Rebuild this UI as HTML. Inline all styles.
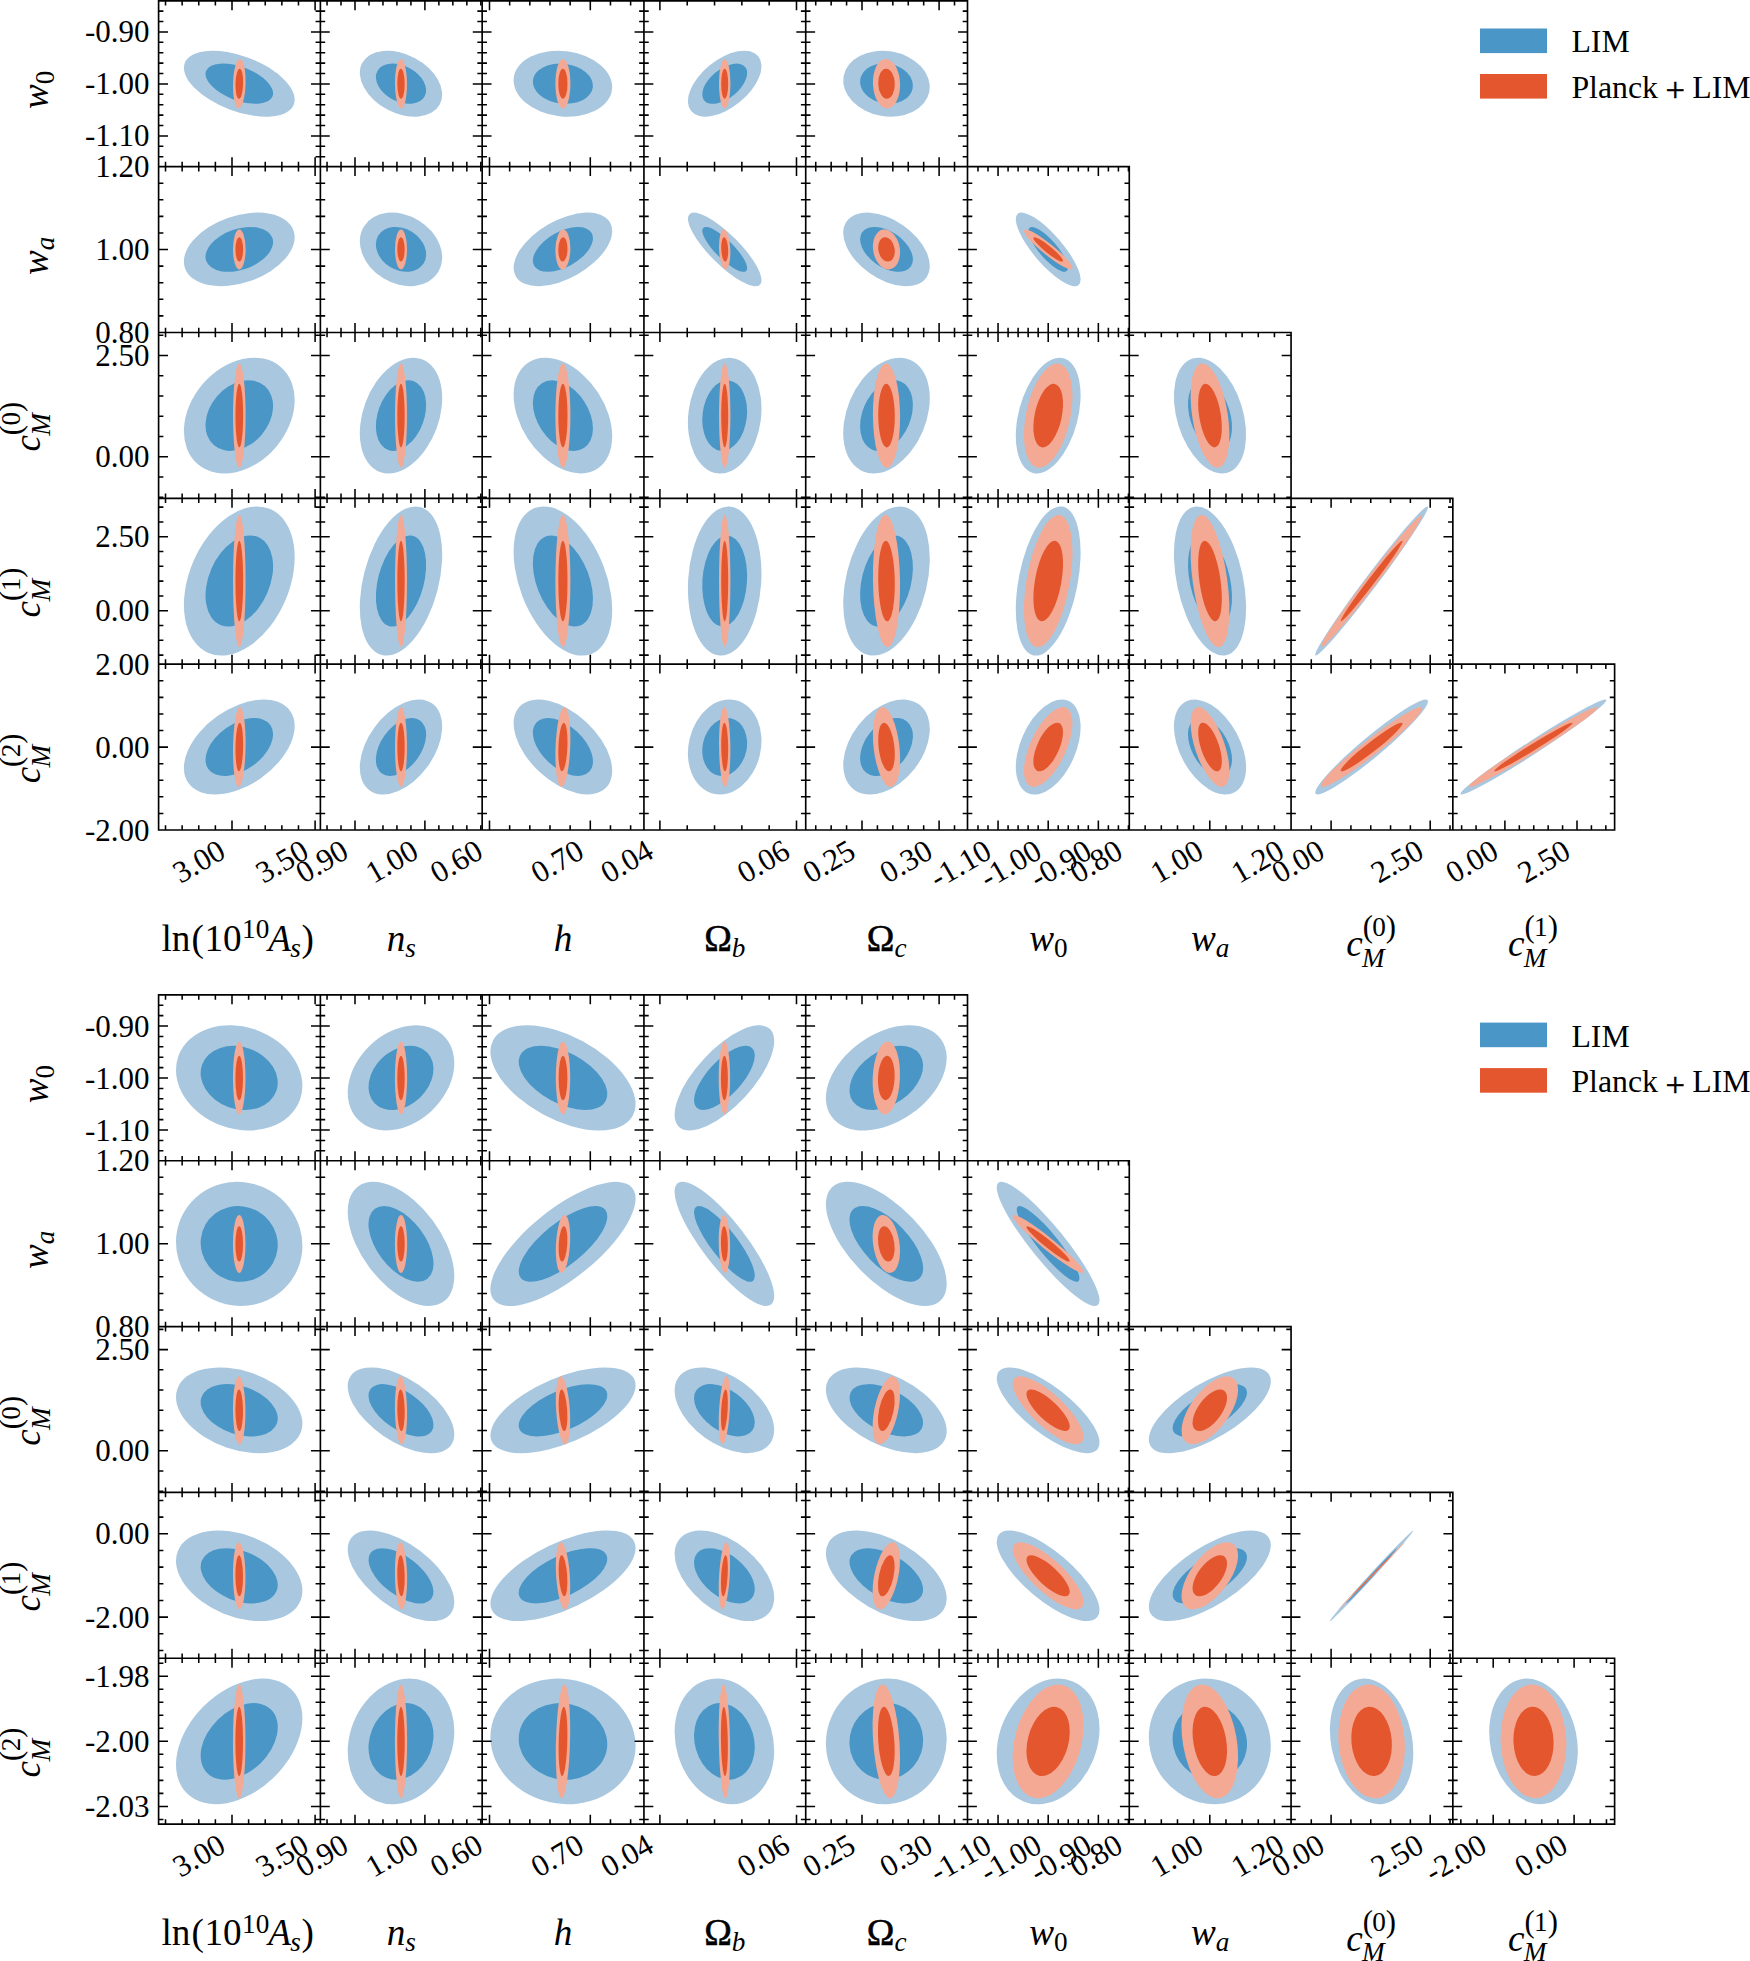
<!DOCTYPE html>
<html lang="en">
<head>
<meta charset="utf-8">
<title>Fisher forecast triangle plots: LIM and Planck + LIM</title>
<style>
html,body{margin:0;padding:0;background:#fff;}
body{width:1750px;height:1961px;overflow:hidden;}
svg{display:block;}
svg text{font-family:"Liberation Serif","Times New Roman",Times,serif;fill:#000;}
</style>
</head>
<body>
<svg width="1750" height="1961" viewBox="0 0 1750 1961">
<rect width="1750" height="1961" fill="#fff"/>
<defs>
<clipPath id="ct00"><rect x="158.60" y="0.80" width="161.78" height="165.84"/></clipPath>
<clipPath id="ct10"><rect x="320.38" y="0.80" width="161.78" height="165.84"/></clipPath>
<clipPath id="ct20"><rect x="482.16" y="0.80" width="161.78" height="165.84"/></clipPath>
<clipPath id="ct30"><rect x="643.94" y="0.80" width="161.78" height="165.84"/></clipPath>
<clipPath id="ct40"><rect x="805.72" y="0.80" width="161.78" height="165.84"/></clipPath>
<clipPath id="ct01"><rect x="158.60" y="166.64" width="161.78" height="165.84"/></clipPath>
<clipPath id="ct11"><rect x="320.38" y="166.64" width="161.78" height="165.84"/></clipPath>
<clipPath id="ct21"><rect x="482.16" y="166.64" width="161.78" height="165.84"/></clipPath>
<clipPath id="ct31"><rect x="643.94" y="166.64" width="161.78" height="165.84"/></clipPath>
<clipPath id="ct41"><rect x="805.72" y="166.64" width="161.78" height="165.84"/></clipPath>
<clipPath id="ct51"><rect x="967.50" y="166.64" width="161.78" height="165.84"/></clipPath>
<clipPath id="ct02"><rect x="158.60" y="332.48" width="161.78" height="165.84"/></clipPath>
<clipPath id="ct12"><rect x="320.38" y="332.48" width="161.78" height="165.84"/></clipPath>
<clipPath id="ct22"><rect x="482.16" y="332.48" width="161.78" height="165.84"/></clipPath>
<clipPath id="ct32"><rect x="643.94" y="332.48" width="161.78" height="165.84"/></clipPath>
<clipPath id="ct42"><rect x="805.72" y="332.48" width="161.78" height="165.84"/></clipPath>
<clipPath id="ct52"><rect x="967.50" y="332.48" width="161.78" height="165.84"/></clipPath>
<clipPath id="ct62"><rect x="1129.28" y="332.48" width="161.78" height="165.84"/></clipPath>
<clipPath id="ct03"><rect x="158.60" y="498.32" width="161.78" height="165.84"/></clipPath>
<clipPath id="ct13"><rect x="320.38" y="498.32" width="161.78" height="165.84"/></clipPath>
<clipPath id="ct23"><rect x="482.16" y="498.32" width="161.78" height="165.84"/></clipPath>
<clipPath id="ct33"><rect x="643.94" y="498.32" width="161.78" height="165.84"/></clipPath>
<clipPath id="ct43"><rect x="805.72" y="498.32" width="161.78" height="165.84"/></clipPath>
<clipPath id="ct53"><rect x="967.50" y="498.32" width="161.78" height="165.84"/></clipPath>
<clipPath id="ct63"><rect x="1129.28" y="498.32" width="161.78" height="165.84"/></clipPath>
<clipPath id="ct73"><rect x="1291.06" y="498.32" width="161.78" height="165.84"/></clipPath>
<clipPath id="ct04"><rect x="158.60" y="664.16" width="161.78" height="165.84"/></clipPath>
<clipPath id="ct14"><rect x="320.38" y="664.16" width="161.78" height="165.84"/></clipPath>
<clipPath id="ct24"><rect x="482.16" y="664.16" width="161.78" height="165.84"/></clipPath>
<clipPath id="ct34"><rect x="643.94" y="664.16" width="161.78" height="165.84"/></clipPath>
<clipPath id="ct44"><rect x="805.72" y="664.16" width="161.78" height="165.84"/></clipPath>
<clipPath id="ct54"><rect x="967.50" y="664.16" width="161.78" height="165.84"/></clipPath>
<clipPath id="ct64"><rect x="1129.28" y="664.16" width="161.78" height="165.84"/></clipPath>
<clipPath id="ct74"><rect x="1291.06" y="664.16" width="161.78" height="165.84"/></clipPath>
<clipPath id="ct84"><rect x="1452.84" y="664.16" width="161.78" height="165.84"/></clipPath>
<clipPath id="cb00"><rect x="158.60" y="994.90" width="161.78" height="165.84"/></clipPath>
<clipPath id="cb10"><rect x="320.38" y="994.90" width="161.78" height="165.84"/></clipPath>
<clipPath id="cb20"><rect x="482.16" y="994.90" width="161.78" height="165.84"/></clipPath>
<clipPath id="cb30"><rect x="643.94" y="994.90" width="161.78" height="165.84"/></clipPath>
<clipPath id="cb40"><rect x="805.72" y="994.90" width="161.78" height="165.84"/></clipPath>
<clipPath id="cb01"><rect x="158.60" y="1160.74" width="161.78" height="165.84"/></clipPath>
<clipPath id="cb11"><rect x="320.38" y="1160.74" width="161.78" height="165.84"/></clipPath>
<clipPath id="cb21"><rect x="482.16" y="1160.74" width="161.78" height="165.84"/></clipPath>
<clipPath id="cb31"><rect x="643.94" y="1160.74" width="161.78" height="165.84"/></clipPath>
<clipPath id="cb41"><rect x="805.72" y="1160.74" width="161.78" height="165.84"/></clipPath>
<clipPath id="cb51"><rect x="967.50" y="1160.74" width="161.78" height="165.84"/></clipPath>
<clipPath id="cb02"><rect x="158.60" y="1326.58" width="161.78" height="165.84"/></clipPath>
<clipPath id="cb12"><rect x="320.38" y="1326.58" width="161.78" height="165.84"/></clipPath>
<clipPath id="cb22"><rect x="482.16" y="1326.58" width="161.78" height="165.84"/></clipPath>
<clipPath id="cb32"><rect x="643.94" y="1326.58" width="161.78" height="165.84"/></clipPath>
<clipPath id="cb42"><rect x="805.72" y="1326.58" width="161.78" height="165.84"/></clipPath>
<clipPath id="cb52"><rect x="967.50" y="1326.58" width="161.78" height="165.84"/></clipPath>
<clipPath id="cb62"><rect x="1129.28" y="1326.58" width="161.78" height="165.84"/></clipPath>
<clipPath id="cb03"><rect x="158.60" y="1492.42" width="161.78" height="165.84"/></clipPath>
<clipPath id="cb13"><rect x="320.38" y="1492.42" width="161.78" height="165.84"/></clipPath>
<clipPath id="cb23"><rect x="482.16" y="1492.42" width="161.78" height="165.84"/></clipPath>
<clipPath id="cb33"><rect x="643.94" y="1492.42" width="161.78" height="165.84"/></clipPath>
<clipPath id="cb43"><rect x="805.72" y="1492.42" width="161.78" height="165.84"/></clipPath>
<clipPath id="cb53"><rect x="967.50" y="1492.42" width="161.78" height="165.84"/></clipPath>
<clipPath id="cb63"><rect x="1129.28" y="1492.42" width="161.78" height="165.84"/></clipPath>
<clipPath id="cb73"><rect x="1291.06" y="1492.42" width="161.78" height="165.84"/></clipPath>
<clipPath id="cb04"><rect x="158.60" y="1658.26" width="161.78" height="165.84"/></clipPath>
<clipPath id="cb14"><rect x="320.38" y="1658.26" width="161.78" height="165.84"/></clipPath>
<clipPath id="cb24"><rect x="482.16" y="1658.26" width="161.78" height="165.84"/></clipPath>
<clipPath id="cb34"><rect x="643.94" y="1658.26" width="161.78" height="165.84"/></clipPath>
<clipPath id="cb44"><rect x="805.72" y="1658.26" width="161.78" height="165.84"/></clipPath>
<clipPath id="cb54"><rect x="967.50" y="1658.26" width="161.78" height="165.84"/></clipPath>
<clipPath id="cb64"><rect x="1129.28" y="1658.26" width="161.78" height="165.84"/></clipPath>
<clipPath id="cb74"><rect x="1291.06" y="1658.26" width="161.78" height="165.84"/></clipPath>
<clipPath id="cb84"><rect x="1452.84" y="1658.26" width="161.78" height="165.84"/></clipPath>
</defs>
<g clip-path="url(#ct00)">
<ellipse cx="239.30" cy="83.70" rx="58.33" ry="27.50" fill="#a9c8e0" transform="rotate(20.78 239.30 83.70)"/>
<ellipse cx="239.30" cy="83.70" rx="35.59" ry="16.78" fill="#4a97c7" transform="rotate(20.78 239.30 83.70)"/>
<ellipse cx="239.30" cy="83.70" rx="24.71" ry="6.27" fill="#f3a994" transform="rotate(91.56 239.30 83.70)"/>
<ellipse cx="239.30" cy="83.70" rx="15.08" ry="3.82" fill="#e4572e" transform="rotate(91.56 239.30 83.70)"/>
</g>
<g clip-path="url(#ct10)">
<ellipse cx="401.00" cy="83.70" rx="43.99" ry="29.17" fill="#a9c8e0" transform="rotate(27.93 401.00 83.70)"/>
<ellipse cx="401.00" cy="83.70" rx="26.84" ry="17.80" fill="#4a97c7" transform="rotate(27.93 401.00 83.70)"/>
<ellipse cx="401.00" cy="83.70" rx="24.70" ry="6.00" fill="#f3a994" transform="rotate(89.56 401.00 83.70)"/>
<ellipse cx="401.00" cy="83.70" rx="15.07" ry="3.66" fill="#e4572e" transform="rotate(89.56 401.00 83.70)"/>
</g>
<g clip-path="url(#ct20)">
<ellipse cx="562.90" cy="83.70" rx="49.50" ry="32.70" fill="#a9c8e0" transform="rotate(6.82 562.90 83.70)"/>
<ellipse cx="562.90" cy="83.70" rx="30.20" ry="19.95" fill="#4a97c7" transform="rotate(6.82 562.90 83.70)"/>
<ellipse cx="562.90" cy="83.70" rx="24.70" ry="7.50" fill="#f3a994" transform="rotate(90.00 562.90 83.70)"/>
<ellipse cx="562.90" cy="83.70" rx="15.07" ry="4.58" fill="#e4572e" transform="rotate(90.00 562.90 83.70)"/>
</g>
<g clip-path="url(#ct30)">
<ellipse cx="724.70" cy="83.70" rx="43.34" ry="23.76" fill="#a9c8e0" transform="rotate(140.82 724.70 83.70)"/>
<ellipse cx="724.70" cy="83.70" rx="26.45" ry="14.50" fill="#4a97c7" transform="rotate(140.82 724.70 83.70)"/>
<ellipse cx="724.70" cy="83.70" rx="24.70" ry="5.70" fill="#f3a994" transform="rotate(90.00 724.70 83.70)"/>
<ellipse cx="724.70" cy="83.70" rx="15.07" ry="3.48" fill="#e4572e" transform="rotate(90.00 724.70 83.70)"/>
</g>
<g clip-path="url(#ct40)">
<ellipse cx="886.50" cy="83.70" rx="43.59" ry="32.62" fill="#a9c8e0" transform="rotate(9.99 886.50 83.70)"/>
<ellipse cx="886.50" cy="83.70" rx="26.60" ry="19.90" fill="#4a97c7" transform="rotate(9.99 886.50 83.70)"/>
<ellipse cx="886.50" cy="83.70" rx="24.71" ry="13.58" fill="#f3a994" transform="rotate(87.74 886.50 83.70)"/>
<ellipse cx="886.50" cy="83.70" rx="15.08" ry="8.28" fill="#e4572e" transform="rotate(87.74 886.50 83.70)"/>
</g>
<g clip-path="url(#ct01)">
<ellipse cx="239.30" cy="249.40" rx="57.46" ry="33.49" fill="#a9c8e0" transform="rotate(160.94 239.30 249.40)"/>
<ellipse cx="239.30" cy="249.40" rx="35.06" ry="20.44" fill="#4a97c7" transform="rotate(160.94 239.30 249.40)"/>
<ellipse cx="239.30" cy="249.40" rx="20.00" ry="6.30" fill="#f3a994" transform="rotate(90.00 239.30 249.40)"/>
<ellipse cx="239.30" cy="249.40" rx="12.20" ry="3.84" fill="#e4572e" transform="rotate(90.00 239.30 249.40)"/>
</g>
<g clip-path="url(#ct11)">
<ellipse cx="401.00" cy="249.40" rx="43.60" ry="33.92" fill="#a9c8e0" transform="rotate(31.39 401.00 249.40)"/>
<ellipse cx="401.00" cy="249.40" rx="26.60" ry="20.70" fill="#4a97c7" transform="rotate(31.39 401.00 249.40)"/>
<ellipse cx="401.00" cy="249.40" rx="20.00" ry="6.00" fill="#f3a994" transform="rotate(90.00 401.00 249.40)"/>
<ellipse cx="401.00" cy="249.40" rx="12.20" ry="3.66" fill="#e4572e" transform="rotate(90.00 401.00 249.40)"/>
</g>
<g clip-path="url(#ct21)">
<ellipse cx="562.90" cy="249.40" rx="54.29" ry="28.94" fill="#a9c8e0" transform="rotate(150.34 562.90 249.40)"/>
<ellipse cx="562.90" cy="249.40" rx="33.12" ry="17.66" fill="#4a97c7" transform="rotate(150.34 562.90 249.40)"/>
<ellipse cx="562.90" cy="249.40" rx="20.00" ry="7.49" fill="#f3a994" transform="rotate(91.25 562.90 249.40)"/>
<ellipse cx="562.90" cy="249.40" rx="12.21" ry="4.57" fill="#e4572e" transform="rotate(91.25 562.90 249.40)"/>
</g>
<g clip-path="url(#ct31)">
<ellipse cx="724.70" cy="249.40" rx="49.85" ry="14.95" fill="#a9c8e0" transform="rotate(45.00 724.70 249.40)"/>
<ellipse cx="724.70" cy="249.40" rx="30.41" ry="9.12" fill="#4a97c7" transform="rotate(45.00 724.70 249.40)"/>
<ellipse cx="724.70" cy="249.40" rx="20.02" ry="5.63" fill="#f3a994" transform="rotate(87.34 724.70 249.40)"/>
<ellipse cx="724.70" cy="249.40" rx="12.21" ry="3.43" fill="#e4572e" transform="rotate(87.34 724.70 249.40)"/>
</g>
<g clip-path="url(#ct41)">
<ellipse cx="886.50" cy="249.40" rx="48.76" ry="29.18" fill="#a9c8e0" transform="rotate(35.02 886.50 249.40)"/>
<ellipse cx="886.50" cy="249.40" rx="29.75" ry="17.81" fill="#4a97c7" transform="rotate(35.02 886.50 249.40)"/>
<ellipse cx="886.50" cy="249.40" rx="20.19" ry="13.32" fill="#f3a994" transform="rotate(79.61 886.50 249.40)"/>
<ellipse cx="886.50" cy="249.40" rx="12.32" ry="8.13" fill="#e4572e" transform="rotate(79.61 886.50 249.40)"/>
</g>
<g clip-path="url(#ct51)">
<ellipse cx="1048.20" cy="249.40" rx="46.81" ry="14.58" fill="#a9c8e0" transform="rotate(49.43 1048.20 249.40)"/>
<ellipse cx="1048.20" cy="249.40" rx="28.56" ry="8.89" fill="#4a97c7" transform="rotate(49.43 1048.20 249.40)"/>
<ellipse cx="1048.20" cy="249.40" rx="30.97" ry="5.61" fill="#f3a994" transform="rotate(39.07 1048.20 249.40)"/>
<ellipse cx="1048.20" cy="249.40" rx="18.89" ry="3.42" fill="#e4572e" transform="rotate(39.07 1048.20 249.40)"/>
</g>
<g clip-path="url(#ct02)">
<ellipse cx="239.30" cy="415.60" rx="63.94" ry="48.30" fill="#a9c8e0" transform="rotate(130.36 239.30 415.60)"/>
<ellipse cx="239.30" cy="415.60" rx="39.01" ry="29.47" fill="#4a97c7" transform="rotate(130.36 239.30 415.60)"/>
<ellipse cx="239.30" cy="415.60" rx="52.10" ry="6.30" fill="#f3a994" transform="rotate(90.00 239.30 415.60)"/>
<ellipse cx="239.30" cy="415.60" rx="31.79" ry="3.84" fill="#e4572e" transform="rotate(90.00 239.30 415.60)"/>
</g>
<g clip-path="url(#ct12)">
<ellipse cx="401.00" cy="415.60" rx="60.16" ry="37.83" fill="#a9c8e0" transform="rotate(110.43 401.00 415.60)"/>
<ellipse cx="401.00" cy="415.60" rx="36.70" ry="23.08" fill="#4a97c7" transform="rotate(110.43 401.00 415.60)"/>
<ellipse cx="401.00" cy="415.60" rx="52.10" ry="6.00" fill="#f3a994" transform="rotate(90.00 401.00 415.60)"/>
<ellipse cx="401.00" cy="415.60" rx="31.79" ry="3.66" fill="#e4572e" transform="rotate(90.00 401.00 415.60)"/>
</g>
<g clip-path="url(#ct22)">
<ellipse cx="562.90" cy="415.60" rx="63.39" ry="42.01" fill="#a9c8e0" transform="rotate(57.08 562.90 415.60)"/>
<ellipse cx="562.90" cy="415.60" rx="38.67" ry="25.63" fill="#4a97c7" transform="rotate(57.08 562.90 415.60)"/>
<ellipse cx="562.90" cy="415.60" rx="52.10" ry="7.50" fill="#f3a994" transform="rotate(90.00 562.90 415.60)"/>
<ellipse cx="562.90" cy="415.60" rx="31.79" ry="4.58" fill="#e4572e" transform="rotate(90.00 562.90 415.60)"/>
</g>
<g clip-path="url(#ct32)">
<ellipse cx="724.70" cy="415.60" rx="58.18" ry="36.36" fill="#a9c8e0" transform="rotate(97.18 724.70 415.60)"/>
<ellipse cx="724.70" cy="415.60" rx="35.50" ry="22.18" fill="#4a97c7" transform="rotate(97.18 724.70 415.60)"/>
<ellipse cx="724.70" cy="415.60" rx="52.10" ry="5.70" fill="#f3a994" transform="rotate(90.00 724.70 415.60)"/>
<ellipse cx="724.70" cy="415.60" rx="31.79" ry="3.48" fill="#e4572e" transform="rotate(90.00 724.70 415.60)"/>
</g>
<g clip-path="url(#ct42)">
<ellipse cx="886.50" cy="415.60" rx="60.56" ry="39.49" fill="#a9c8e0" transform="rotate(112.76 886.50 415.60)"/>
<ellipse cx="886.50" cy="415.60" rx="36.95" ry="24.09" fill="#4a97c7" transform="rotate(112.76 886.50 415.60)"/>
<ellipse cx="886.50" cy="415.60" rx="52.10" ry="13.59" fill="#f3a994" transform="rotate(89.52 886.50 415.60)"/>
<ellipse cx="886.50" cy="415.60" rx="31.79" ry="8.29" fill="#e4572e" transform="rotate(89.52 886.50 415.60)"/>
</g>
<g clip-path="url(#ct52)">
<ellipse cx="1048.20" cy="415.60" rx="59.38" ry="29.59" fill="#a9c8e0" transform="rotate(104.85 1048.20 415.60)"/>
<ellipse cx="1048.20" cy="415.60" rx="36.23" ry="18.06" fill="#4a97c7" transform="rotate(104.85 1048.20 415.60)"/>
<ellipse cx="1048.20" cy="415.60" rx="53.04" ry="22.18" fill="#f3a994" transform="rotate(101.90 1048.20 415.60)"/>
<ellipse cx="1048.20" cy="415.60" rx="32.36" ry="13.53" fill="#e4572e" transform="rotate(101.90 1048.20 415.60)"/>
</g>
<g clip-path="url(#ct62)">
<ellipse cx="1210.00" cy="415.60" rx="59.69" ry="33.06" fill="#a9c8e0" transform="rotate(73.03 1210.00 415.60)"/>
<ellipse cx="1210.00" cy="415.60" rx="36.42" ry="20.17" fill="#4a97c7" transform="rotate(73.03 1210.00 415.60)"/>
<ellipse cx="1210.00" cy="415.60" rx="52.69" ry="17.74" fill="#f3a994" transform="rotate(80.91 1210.00 415.60)"/>
<ellipse cx="1210.00" cy="415.60" rx="32.15" ry="10.83" fill="#e4572e" transform="rotate(80.91 1210.00 415.60)"/>
</g>
<g clip-path="url(#ct03)">
<ellipse cx="239.30" cy="581.00" rx="78.33" ry="49.99" fill="#a9c8e0" transform="rotate(113.33 239.30 581.00)"/>
<ellipse cx="239.30" cy="581.00" rx="47.79" ry="30.50" fill="#4a97c7" transform="rotate(113.33 239.30 581.00)"/>
<ellipse cx="239.30" cy="581.00" rx="66.10" ry="6.30" fill="#f3a994" transform="rotate(90.00 239.30 581.00)"/>
<ellipse cx="239.30" cy="581.00" rx="40.33" ry="3.84" fill="#e4572e" transform="rotate(90.00 239.30 581.00)"/>
</g>
<g clip-path="url(#ct13)">
<ellipse cx="401.00" cy="581.00" rx="76.45" ry="37.66" fill="#a9c8e0" transform="rotate(104.54 401.00 581.00)"/>
<ellipse cx="401.00" cy="581.00" rx="46.64" ry="22.98" fill="#4a97c7" transform="rotate(104.54 401.00 581.00)"/>
<ellipse cx="401.00" cy="581.00" rx="66.10" ry="6.00" fill="#f3a994" transform="rotate(90.00 401.00 581.00)"/>
<ellipse cx="401.00" cy="581.00" rx="40.33" ry="3.66" fill="#e4572e" transform="rotate(90.00 401.00 581.00)"/>
</g>
<g clip-path="url(#ct23)">
<ellipse cx="562.90" cy="581.00" rx="78.25" ry="43.28" fill="#a9c8e0" transform="rotate(68.77 562.90 581.00)"/>
<ellipse cx="562.90" cy="581.00" rx="47.74" ry="26.41" fill="#4a97c7" transform="rotate(68.77 562.90 581.00)"/>
<ellipse cx="562.90" cy="581.00" rx="66.10" ry="7.50" fill="#f3a994" transform="rotate(90.00 562.90 581.00)"/>
<ellipse cx="562.90" cy="581.00" rx="40.33" ry="4.58" fill="#e4572e" transform="rotate(90.00 562.90 581.00)"/>
</g>
<g clip-path="url(#ct33)">
<ellipse cx="724.70" cy="581.00" rx="74.72" ry="36.56" fill="#a9c8e0" transform="rotate(93.71 724.70 581.00)"/>
<ellipse cx="724.70" cy="581.00" rx="45.59" ry="22.30" fill="#4a97c7" transform="rotate(93.71 724.70 581.00)"/>
<ellipse cx="724.70" cy="581.00" rx="66.10" ry="5.70" fill="#f3a994" transform="rotate(90.00 724.70 581.00)"/>
<ellipse cx="724.70" cy="581.00" rx="40.33" ry="3.48" fill="#e4572e" transform="rotate(90.00 724.70 581.00)"/>
</g>
<g clip-path="url(#ct43)">
<ellipse cx="886.50" cy="581.00" rx="76.18" ry="40.45" fill="#a9c8e0" transform="rotate(103.85 886.50 581.00)"/>
<ellipse cx="886.50" cy="581.00" rx="46.48" ry="24.68" fill="#4a97c7" transform="rotate(103.85 886.50 581.00)"/>
<ellipse cx="886.50" cy="581.00" rx="66.11" ry="13.55" fill="#f3a994" transform="rotate(89.02 886.50 581.00)"/>
<ellipse cx="886.50" cy="581.00" rx="40.34" ry="8.27" fill="#e4572e" transform="rotate(89.02 886.50 581.00)"/>
</g>
<g clip-path="url(#ct53)">
<ellipse cx="1048.20" cy="581.00" rx="75.79" ry="29.50" fill="#a9c8e0" transform="rotate(101.07 1048.20 581.00)"/>
<ellipse cx="1048.20" cy="581.00" rx="46.24" ry="18.00" fill="#4a97c7" transform="rotate(101.07 1048.20 581.00)"/>
<ellipse cx="1048.20" cy="581.00" rx="67.02" ry="21.64" fill="#f3a994" transform="rotate(100.04 1048.20 581.00)"/>
<ellipse cx="1048.20" cy="581.00" rx="40.89" ry="13.20" fill="#e4572e" transform="rotate(100.04 1048.20 581.00)"/>
</g>
<g clip-path="url(#ct63)">
<ellipse cx="1210.00" cy="581.00" rx="76.00" ry="33.06" fill="#a9c8e0" transform="rotate(77.77 1210.00 581.00)"/>
<ellipse cx="1210.00" cy="581.00" rx="46.37" ry="20.17" fill="#4a97c7" transform="rotate(77.77 1210.00 581.00)"/>
<ellipse cx="1210.00" cy="581.00" rx="66.69" ry="17.27" fill="#f3a994" transform="rotate(82.11 1210.00 581.00)"/>
<ellipse cx="1210.00" cy="581.00" rx="40.69" ry="10.54" fill="#e4572e" transform="rotate(82.11 1210.00 581.00)"/>
</g>
<g clip-path="url(#ct73)">
<ellipse cx="1371.60" cy="581.00" rx="93.30" ry="6.42" fill="#a9c8e0" transform="rotate(127.01 1371.60 581.00)"/>
<ellipse cx="1371.60" cy="581.00" rx="56.92" ry="3.92" fill="#4a97c7" transform="rotate(127.01 1371.60 581.00)"/>
<ellipse cx="1371.60" cy="581.00" rx="83.13" ry="5.43" fill="#f3a994" transform="rotate(127.42 1371.60 581.00)"/>
<ellipse cx="1371.60" cy="581.00" rx="50.72" ry="3.31" fill="#e4572e" transform="rotate(127.42 1371.60 581.00)"/>
</g>
<g clip-path="url(#ct04)">
<ellipse cx="239.30" cy="747.00" rx="62.37" ry="37.89" fill="#a9c8e0" transform="rotate(144.67 239.30 747.00)"/>
<ellipse cx="239.30" cy="747.00" rx="38.05" ry="23.12" fill="#4a97c7" transform="rotate(144.67 239.30 747.00)"/>
<ellipse cx="239.30" cy="747.00" rx="39.91" ry="6.27" fill="#f3a994" transform="rotate(90.93 239.30 747.00)"/>
<ellipse cx="239.30" cy="747.00" rx="24.35" ry="3.82" fill="#e4572e" transform="rotate(90.93 239.30 747.00)"/>
</g>
<g clip-path="url(#ct14)">
<ellipse cx="401.00" cy="747.00" rx="53.51" ry="33.02" fill="#a9c8e0" transform="rotate(125.82 401.00 747.00)"/>
<ellipse cx="401.00" cy="747.00" rx="32.65" ry="20.14" fill="#4a97c7" transform="rotate(125.82 401.00 747.00)"/>
<ellipse cx="401.00" cy="747.00" rx="39.90" ry="6.00" fill="#f3a994" transform="rotate(90.00 401.00 747.00)"/>
<ellipse cx="401.00" cy="747.00" rx="24.34" ry="3.66" fill="#e4572e" transform="rotate(90.00 401.00 747.00)"/>
</g>
<g clip-path="url(#ct24)">
<ellipse cx="562.90" cy="747.00" rx="59.31" ry="34.19" fill="#a9c8e0" transform="rotate(42.87 562.90 747.00)"/>
<ellipse cx="562.90" cy="747.00" rx="36.19" ry="20.86" fill="#4a97c7" transform="rotate(42.87 562.90 747.00)"/>
<ellipse cx="562.90" cy="747.00" rx="39.93" ry="7.34" fill="#f3a994" transform="rotate(92.23 562.90 747.00)"/>
<ellipse cx="562.90" cy="747.00" rx="24.36" ry="4.48" fill="#e4572e" transform="rotate(92.23 562.90 747.00)"/>
</g>
<g clip-path="url(#ct34)">
<ellipse cx="724.70" cy="747.00" rx="48.07" ry="36.06" fill="#a9c8e0" transform="rotate(103.37 724.70 747.00)"/>
<ellipse cx="724.70" cy="747.00" rx="29.33" ry="22.00" fill="#4a97c7" transform="rotate(103.37 724.70 747.00)"/>
<ellipse cx="724.70" cy="747.00" rx="39.90" ry="5.68" fill="#f3a994" transform="rotate(89.33 724.70 747.00)"/>
<ellipse cx="724.70" cy="747.00" rx="24.35" ry="3.47" fill="#e4572e" transform="rotate(89.33 724.70 747.00)"/>
</g>
<g clip-path="url(#ct44)">
<ellipse cx="886.50" cy="747.00" rx="53.57" ry="35.51" fill="#a9c8e0" transform="rotate(128.14 886.50 747.00)"/>
<ellipse cx="886.50" cy="747.00" rx="32.69" ry="21.67" fill="#4a97c7" transform="rotate(128.14 886.50 747.00)"/>
<ellipse cx="886.50" cy="747.00" rx="40.13" ry="12.90" fill="#f3a994" transform="rotate(83.49 886.50 747.00)"/>
<ellipse cx="886.50" cy="747.00" rx="24.49" ry="7.87" fill="#e4572e" transform="rotate(83.49 886.50 747.00)"/>
</g>
<g clip-path="url(#ct54)">
<ellipse cx="1048.20" cy="747.00" rx="50.37" ry="27.73" fill="#a9c8e0" transform="rotate(113.49 1048.20 747.00)"/>
<ellipse cx="1048.20" cy="747.00" rx="30.73" ry="16.92" fill="#4a97c7" transform="rotate(113.49 1048.20 747.00)"/>
<ellipse cx="1048.20" cy="747.00" rx="43.11" ry="17.99" fill="#f3a994" transform="rotate(114.64 1048.20 747.00)"/>
<ellipse cx="1048.20" cy="747.00" rx="26.31" ry="10.98" fill="#e4572e" transform="rotate(114.64 1048.20 747.00)"/>
</g>
<g clip-path="url(#ct64)">
<ellipse cx="1210.00" cy="747.00" rx="51.55" ry="30.03" fill="#a9c8e0" transform="rotate(61.44 1210.00 747.00)"/>
<ellipse cx="1210.00" cy="747.00" rx="31.45" ry="18.32" fill="#4a97c7" transform="rotate(61.44 1210.00 747.00)"/>
<ellipse cx="1210.00" cy="747.00" rx="41.82" ry="14.81" fill="#f3a994" transform="rotate(71.31 1210.00 747.00)"/>
<ellipse cx="1210.00" cy="747.00" rx="25.52" ry="9.03" fill="#e4572e" transform="rotate(71.31 1210.00 747.00)"/>
</g>
<g clip-path="url(#ct74)">
<ellipse cx="1371.60" cy="747.00" rx="73.00" ry="10.40" fill="#a9c8e0" transform="rotate(140.10 1371.60 747.00)"/>
<ellipse cx="1371.60" cy="747.00" rx="44.54" ry="6.35" fill="#4a97c7" transform="rotate(140.10 1371.60 747.00)"/>
<ellipse cx="1371.60" cy="747.00" rx="64.01" ry="8.05" fill="#f3a994" transform="rotate(142.02 1371.60 747.00)"/>
<ellipse cx="1371.60" cy="747.00" rx="39.06" ry="4.91" fill="#e4572e" transform="rotate(142.02 1371.60 747.00)"/>
</g>
<g clip-path="url(#ct84)">
<ellipse cx="1533.40" cy="747.00" rx="86.75" ry="6.66" fill="#a9c8e0" transform="rotate(147.06 1533.40 747.00)"/>
<ellipse cx="1533.40" cy="747.00" rx="52.93" ry="4.06" fill="#4a97c7" transform="rotate(147.06 1533.40 747.00)"/>
<ellipse cx="1533.40" cy="747.00" rx="75.48" ry="5.46" fill="#f3a994" transform="rotate(148.33 1533.40 747.00)"/>
<ellipse cx="1533.40" cy="747.00" rx="46.05" ry="3.33" fill="#e4572e" transform="rotate(148.33 1533.40 747.00)"/>
</g>
<path d="M165.52 166.64v-4.8M165.52 0.8v4.8M182.14 166.64v-4.8M182.14 0.8v4.8M198.76 166.64v-4.8M198.76 0.8v4.8M215.38 166.64v-4.8M215.38 0.8v4.8M232 166.64v-9.4M232 0.8v9.4M248.62 166.64v-4.8M248.62 0.8v4.8M265.24 166.64v-4.8M265.24 0.8v4.8M281.86 166.64v-4.8M281.86 0.8v4.8M298.48 166.64v-4.8M298.48 0.8v4.8M315.1 166.64v-9.4M315.1 0.8v9.4M158.6 11.1h4.8M320.38 11.1h-4.8M158.6 21.5h4.8M320.38 21.5h-4.8M158.6 31.9h9.4M320.38 31.9h-9.4M158.6 42.3h4.8M320.38 42.3h-4.8M158.6 52.7h4.8M320.38 52.7h-4.8M158.6 63.1h4.8M320.38 63.1h-4.8M158.6 73.5h4.8M320.38 73.5h-4.8M158.6 83.9h9.4M320.38 83.9h-9.4M158.6 94.3h4.8M320.38 94.3h-4.8M158.6 104.7h4.8M320.38 104.7h-4.8M158.6 115.1h4.8M320.38 115.1h-4.8M158.6 125.5h4.8M320.38 125.5h-4.8M158.6 135.9h9.4M320.38 135.9h-9.4M158.6 146.3h4.8M320.38 146.3h-4.8M158.6 156.7h4.8M320.38 156.7h-4.8M327.04 166.64v-4.8M327.04 0.8v4.8M341.02 166.64v-4.8M341.02 0.8v4.8M355 166.64v-9.4M355 0.8v9.4M368.98 166.64v-4.8M368.98 0.8v4.8M382.96 166.64v-4.8M382.96 0.8v4.8M396.94 166.64v-4.8M396.94 0.8v4.8M410.92 166.64v-4.8M410.92 0.8v4.8M424.9 166.64v-9.4M424.9 0.8v9.4M438.88 166.64v-4.8M438.88 0.8v4.8M452.86 166.64v-4.8M452.86 0.8v4.8M466.84 166.64v-4.8M466.84 0.8v4.8M480.82 166.64v-4.8M480.82 0.8v4.8M320.38 11.1h4.8M482.16 11.1h-4.8M320.38 21.5h4.8M482.16 21.5h-4.8M320.38 31.9h9.4M482.16 31.9h-9.4M320.38 42.3h4.8M482.16 42.3h-4.8M320.38 52.7h4.8M482.16 52.7h-4.8M320.38 63.1h4.8M482.16 63.1h-4.8M320.38 73.5h4.8M482.16 73.5h-4.8M320.38 83.9h9.4M482.16 83.9h-9.4M320.38 94.3h4.8M482.16 94.3h-4.8M320.38 104.7h4.8M482.16 104.7h-4.8M320.38 115.1h4.8M482.16 115.1h-4.8M320.38 125.5h4.8M482.16 125.5h-4.8M320.38 135.9h9.4M482.16 135.9h-9.4M320.38 146.3h4.8M482.16 146.3h-4.8M320.38 156.7h4.8M482.16 156.7h-4.8M489.5 166.64v-9.4M489.5 0.8v9.4M509.66 166.64v-4.8M509.66 0.8v4.8M529.82 166.64v-4.8M529.82 0.8v4.8M549.98 166.64v-4.8M549.98 0.8v4.8M570.14 166.64v-4.8M570.14 0.8v4.8M590.3 166.64v-9.4M590.3 0.8v9.4M610.46 166.64v-4.8M610.46 0.8v4.8M630.62 166.64v-4.8M630.62 0.8v4.8M482.16 11.1h4.8M643.94 11.1h-4.8M482.16 21.5h4.8M643.94 21.5h-4.8M482.16 31.9h9.4M643.94 31.9h-9.4M482.16 42.3h4.8M643.94 42.3h-4.8M482.16 52.7h4.8M643.94 52.7h-4.8M482.16 63.1h4.8M643.94 63.1h-4.8M482.16 73.5h4.8M643.94 73.5h-4.8M482.16 83.9h9.4M643.94 83.9h-9.4M482.16 94.3h4.8M643.94 94.3h-4.8M482.16 104.7h4.8M643.94 104.7h-4.8M482.16 115.1h4.8M643.94 115.1h-4.8M482.16 125.5h4.8M643.94 125.5h-4.8M482.16 135.9h9.4M643.94 135.9h-9.4M482.16 146.3h4.8M643.94 146.3h-4.8M482.16 156.7h4.8M643.94 156.7h-4.8M659.9 166.64v-9.4M659.9 0.8v9.4M687.22 166.64v-4.8M687.22 0.8v4.8M714.54 166.64v-4.8M714.54 0.8v4.8M741.86 166.64v-4.8M741.86 0.8v4.8M769.18 166.64v-4.8M769.18 0.8v4.8M796.5 166.64v-9.4M796.5 0.8v9.4M643.94 11.1h4.8M805.72 11.1h-4.8M643.94 21.5h4.8M805.72 21.5h-4.8M643.94 31.9h9.4M805.72 31.9h-9.4M643.94 42.3h4.8M805.72 42.3h-4.8M643.94 52.7h4.8M805.72 52.7h-4.8M643.94 63.1h4.8M805.72 63.1h-4.8M643.94 73.5h4.8M805.72 73.5h-4.8M643.94 83.9h9.4M805.72 83.9h-9.4M643.94 94.3h4.8M805.72 94.3h-4.8M643.94 104.7h4.8M805.72 104.7h-4.8M643.94 115.1h4.8M805.72 115.1h-4.8M643.94 125.5h4.8M805.72 125.5h-4.8M643.94 135.9h9.4M805.72 135.9h-9.4M643.94 146.3h4.8M805.72 146.3h-4.8M643.94 156.7h4.8M805.72 156.7h-4.8M815.74 166.64v-4.8M815.74 0.8v4.8M831.16 166.64v-4.8M831.16 0.8v4.8M846.58 166.64v-4.8M846.58 0.8v4.8M862 166.64v-9.4M862 0.8v9.4M877.42 166.64v-4.8M877.42 0.8v4.8M892.84 166.64v-4.8M892.84 0.8v4.8M908.26 166.64v-4.8M908.26 0.8v4.8M923.68 166.64v-4.8M923.68 0.8v4.8M939.1 166.64v-9.4M939.1 0.8v9.4M954.52 166.64v-4.8M954.52 0.8v4.8M805.72 11.1h4.8M967.5 11.1h-4.8M805.72 21.5h4.8M967.5 21.5h-4.8M805.72 31.9h9.4M967.5 31.9h-9.4M805.72 42.3h4.8M967.5 42.3h-4.8M805.72 52.7h4.8M967.5 52.7h-4.8M805.72 63.1h4.8M967.5 63.1h-4.8M805.72 73.5h4.8M967.5 73.5h-4.8M805.72 83.9h9.4M967.5 83.9h-9.4M805.72 94.3h4.8M967.5 94.3h-4.8M805.72 104.7h4.8M967.5 104.7h-4.8M805.72 115.1h4.8M967.5 115.1h-4.8M805.72 125.5h4.8M967.5 125.5h-4.8M805.72 135.9h9.4M967.5 135.9h-9.4M805.72 146.3h4.8M967.5 146.3h-4.8M805.72 156.7h4.8M967.5 156.7h-4.8M165.52 332.48v-4.8M165.52 166.64v4.8M182.14 332.48v-4.8M182.14 166.64v4.8M198.76 332.48v-4.8M198.76 166.64v4.8M215.38 332.48v-4.8M215.38 166.64v4.8M232 332.48v-9.4M232 166.64v9.4M248.62 332.48v-4.8M248.62 166.64v4.8M265.24 332.48v-4.8M265.24 166.64v4.8M281.86 332.48v-4.8M281.86 166.64v4.8M298.48 332.48v-4.8M298.48 166.64v4.8M315.1 332.48v-9.4M315.1 166.64v9.4M158.6 183.21h4.8M320.38 183.21h-4.8M158.6 199.8h4.8M320.38 199.8h-4.8M158.6 216.38h4.8M320.38 216.38h-4.8M158.6 232.97h4.8M320.38 232.97h-4.8M158.6 249.55h9.4M320.38 249.55h-9.4M158.6 266.13h4.8M320.38 266.13h-4.8M158.6 282.72h4.8M320.38 282.72h-4.8M158.6 299.3h4.8M320.38 299.3h-4.8M158.6 315.89h4.8M320.38 315.89h-4.8M327.04 332.48v-4.8M327.04 166.64v4.8M341.02 332.48v-4.8M341.02 166.64v4.8M355 332.48v-9.4M355 166.64v9.4M368.98 332.48v-4.8M368.98 166.64v4.8M382.96 332.48v-4.8M382.96 166.64v4.8M396.94 332.48v-4.8M396.94 166.64v4.8M410.92 332.48v-4.8M410.92 166.64v4.8M424.9 332.48v-9.4M424.9 166.64v9.4M438.88 332.48v-4.8M438.88 166.64v4.8M452.86 332.48v-4.8M452.86 166.64v4.8M466.84 332.48v-4.8M466.84 166.64v4.8M480.82 332.48v-4.8M480.82 166.64v4.8M320.38 183.21h4.8M482.16 183.21h-4.8M320.38 199.8h4.8M482.16 199.8h-4.8M320.38 216.38h4.8M482.16 216.38h-4.8M320.38 232.97h4.8M482.16 232.97h-4.8M320.38 249.55h9.4M482.16 249.55h-9.4M320.38 266.13h4.8M482.16 266.13h-4.8M320.38 282.72h4.8M482.16 282.72h-4.8M320.38 299.3h4.8M482.16 299.3h-4.8M320.38 315.89h4.8M482.16 315.89h-4.8M489.5 332.48v-9.4M489.5 166.64v9.4M509.66 332.48v-4.8M509.66 166.64v4.8M529.82 332.48v-4.8M529.82 166.64v4.8M549.98 332.48v-4.8M549.98 166.64v4.8M570.14 332.48v-4.8M570.14 166.64v4.8M590.3 332.48v-9.4M590.3 166.64v9.4M610.46 332.48v-4.8M610.46 166.64v4.8M630.62 332.48v-4.8M630.62 166.64v4.8M482.16 183.21h4.8M643.94 183.21h-4.8M482.16 199.8h4.8M643.94 199.8h-4.8M482.16 216.38h4.8M643.94 216.38h-4.8M482.16 232.97h4.8M643.94 232.97h-4.8M482.16 249.55h9.4M643.94 249.55h-9.4M482.16 266.13h4.8M643.94 266.13h-4.8M482.16 282.72h4.8M643.94 282.72h-4.8M482.16 299.3h4.8M643.94 299.3h-4.8M482.16 315.89h4.8M643.94 315.89h-4.8M659.9 332.48v-9.4M659.9 166.64v9.4M687.22 332.48v-4.8M687.22 166.64v4.8M714.54 332.48v-4.8M714.54 166.64v4.8M741.86 332.48v-4.8M741.86 166.64v4.8M769.18 332.48v-4.8M769.18 166.64v4.8M796.5 332.48v-9.4M796.5 166.64v9.4M643.94 183.21h4.8M805.72 183.21h-4.8M643.94 199.8h4.8M805.72 199.8h-4.8M643.94 216.38h4.8M805.72 216.38h-4.8M643.94 232.97h4.8M805.72 232.97h-4.8M643.94 249.55h9.4M805.72 249.55h-9.4M643.94 266.13h4.8M805.72 266.13h-4.8M643.94 282.72h4.8M805.72 282.72h-4.8M643.94 299.3h4.8M805.72 299.3h-4.8M643.94 315.89h4.8M805.72 315.89h-4.8M815.74 332.48v-4.8M815.74 166.64v4.8M831.16 332.48v-4.8M831.16 166.64v4.8M846.58 332.48v-4.8M846.58 166.64v4.8M862 332.48v-9.4M862 166.64v9.4M877.42 332.48v-4.8M877.42 166.64v4.8M892.84 332.48v-4.8M892.84 166.64v4.8M908.26 332.48v-4.8M908.26 166.64v4.8M923.68 332.48v-4.8M923.68 166.64v4.8M939.1 332.48v-9.4M939.1 166.64v9.4M954.52 332.48v-4.8M954.52 166.64v4.8M805.72 183.21h4.8M967.5 183.21h-4.8M805.72 199.8h4.8M967.5 199.8h-4.8M805.72 216.38h4.8M967.5 216.38h-4.8M805.72 232.97h4.8M967.5 232.97h-4.8M805.72 249.55h9.4M967.5 249.55h-9.4M805.72 266.13h4.8M967.5 266.13h-4.8M805.72 282.72h4.8M967.5 282.72h-4.8M805.72 299.3h4.8M967.5 299.3h-4.8M805.72 315.89h4.8M967.5 315.89h-4.8M977.99 332.48v-4.8M977.99 166.64v4.8M988.02 332.48v-4.8M988.02 166.64v4.8M998.05 332.48v-9.4M998.05 166.64v9.4M1008.08 332.48v-4.8M1008.08 166.64v4.8M1018.11 332.48v-4.8M1018.11 166.64v4.8M1028.14 332.48v-4.8M1028.14 166.64v4.8M1038.17 332.48v-4.8M1038.17 166.64v4.8M1048.2 332.48v-9.4M1048.2 166.64v9.4M1058.23 332.48v-4.8M1058.23 166.64v4.8M1068.26 332.48v-4.8M1068.26 166.64v4.8M1078.29 332.48v-4.8M1078.29 166.64v4.8M1088.32 332.48v-4.8M1088.32 166.64v4.8M1098.35 332.48v-9.4M1098.35 166.64v9.4M1108.38 332.48v-4.8M1108.38 166.64v4.8M1118.41 332.48v-4.8M1118.41 166.64v4.8M1128.44 332.48v-4.8M1128.44 166.64v4.8M967.5 183.21h4.8M1129.28 183.21h-4.8M967.5 199.8h4.8M1129.28 199.8h-4.8M967.5 216.38h4.8M1129.28 216.38h-4.8M967.5 232.97h4.8M1129.28 232.97h-4.8M967.5 249.55h9.4M1129.28 249.55h-9.4M967.5 266.13h4.8M1129.28 266.13h-4.8M967.5 282.72h4.8M1129.28 282.72h-4.8M967.5 299.3h4.8M1129.28 299.3h-4.8M967.5 315.89h4.8M1129.28 315.89h-4.8M165.52 498.32v-4.8M165.52 332.48v4.8M182.14 498.32v-4.8M182.14 332.48v4.8M198.76 498.32v-4.8M198.76 332.48v4.8M215.38 498.32v-4.8M215.38 332.48v4.8M232 498.32v-9.4M232 332.48v9.4M248.62 498.32v-4.8M248.62 332.48v4.8M265.24 498.32v-4.8M265.24 332.48v4.8M281.86 498.32v-4.8M281.86 332.48v4.8M298.48 498.32v-4.8M298.48 332.48v4.8M315.1 498.32v-9.4M315.1 332.48v9.4M158.6 335.26h4.8M320.38 335.26h-4.8M158.6 355.5h9.4M320.38 355.5h-9.4M158.6 375.74h4.8M320.38 375.74h-4.8M158.6 395.98h4.8M320.38 395.98h-4.8M158.6 416.22h4.8M320.38 416.22h-4.8M158.6 436.46h4.8M320.38 436.46h-4.8M158.6 456.7h9.4M320.38 456.7h-9.4M158.6 476.94h4.8M320.38 476.94h-4.8M158.6 497.18h4.8M320.38 497.18h-4.8M327.04 498.32v-4.8M327.04 332.48v4.8M341.02 498.32v-4.8M341.02 332.48v4.8M355 498.32v-9.4M355 332.48v9.4M368.98 498.32v-4.8M368.98 332.48v4.8M382.96 498.32v-4.8M382.96 332.48v4.8M396.94 498.32v-4.8M396.94 332.48v4.8M410.92 498.32v-4.8M410.92 332.48v4.8M424.9 498.32v-9.4M424.9 332.48v9.4M438.88 498.32v-4.8M438.88 332.48v4.8M452.86 498.32v-4.8M452.86 332.48v4.8M466.84 498.32v-4.8M466.84 332.48v4.8M480.82 498.32v-4.8M480.82 332.48v4.8M320.38 335.26h4.8M482.16 335.26h-4.8M320.38 355.5h9.4M482.16 355.5h-9.4M320.38 375.74h4.8M482.16 375.74h-4.8M320.38 395.98h4.8M482.16 395.98h-4.8M320.38 416.22h4.8M482.16 416.22h-4.8M320.38 436.46h4.8M482.16 436.46h-4.8M320.38 456.7h9.4M482.16 456.7h-9.4M320.38 476.94h4.8M482.16 476.94h-4.8M320.38 497.18h4.8M482.16 497.18h-4.8M489.5 498.32v-9.4M489.5 332.48v9.4M509.66 498.32v-4.8M509.66 332.48v4.8M529.82 498.32v-4.8M529.82 332.48v4.8M549.98 498.32v-4.8M549.98 332.48v4.8M570.14 498.32v-4.8M570.14 332.48v4.8M590.3 498.32v-9.4M590.3 332.48v9.4M610.46 498.32v-4.8M610.46 332.48v4.8M630.62 498.32v-4.8M630.62 332.48v4.8M482.16 335.26h4.8M643.94 335.26h-4.8M482.16 355.5h9.4M643.94 355.5h-9.4M482.16 375.74h4.8M643.94 375.74h-4.8M482.16 395.98h4.8M643.94 395.98h-4.8M482.16 416.22h4.8M643.94 416.22h-4.8M482.16 436.46h4.8M643.94 436.46h-4.8M482.16 456.7h9.4M643.94 456.7h-9.4M482.16 476.94h4.8M643.94 476.94h-4.8M482.16 497.18h4.8M643.94 497.18h-4.8M659.9 498.32v-9.4M659.9 332.48v9.4M687.22 498.32v-4.8M687.22 332.48v4.8M714.54 498.32v-4.8M714.54 332.48v4.8M741.86 498.32v-4.8M741.86 332.48v4.8M769.18 498.32v-4.8M769.18 332.48v4.8M796.5 498.32v-9.4M796.5 332.48v9.4M643.94 335.26h4.8M805.72 335.26h-4.8M643.94 355.5h9.4M805.72 355.5h-9.4M643.94 375.74h4.8M805.72 375.74h-4.8M643.94 395.98h4.8M805.72 395.98h-4.8M643.94 416.22h4.8M805.72 416.22h-4.8M643.94 436.46h4.8M805.72 436.46h-4.8M643.94 456.7h9.4M805.72 456.7h-9.4M643.94 476.94h4.8M805.72 476.94h-4.8M643.94 497.18h4.8M805.72 497.18h-4.8M815.74 498.32v-4.8M815.74 332.48v4.8M831.16 498.32v-4.8M831.16 332.48v4.8M846.58 498.32v-4.8M846.58 332.48v4.8M862 498.32v-9.4M862 332.48v9.4M877.42 498.32v-4.8M877.42 332.48v4.8M892.84 498.32v-4.8M892.84 332.48v4.8M908.26 498.32v-4.8M908.26 332.48v4.8M923.68 498.32v-4.8M923.68 332.48v4.8M939.1 498.32v-9.4M939.1 332.48v9.4M954.52 498.32v-4.8M954.52 332.48v4.8M805.72 335.26h4.8M967.5 335.26h-4.8M805.72 355.5h9.4M967.5 355.5h-9.4M805.72 375.74h4.8M967.5 375.74h-4.8M805.72 395.98h4.8M967.5 395.98h-4.8M805.72 416.22h4.8M967.5 416.22h-4.8M805.72 436.46h4.8M967.5 436.46h-4.8M805.72 456.7h9.4M967.5 456.7h-9.4M805.72 476.94h4.8M967.5 476.94h-4.8M805.72 497.18h4.8M967.5 497.18h-4.8M977.99 498.32v-4.8M977.99 332.48v4.8M988.02 498.32v-4.8M988.02 332.48v4.8M998.05 498.32v-9.4M998.05 332.48v9.4M1008.08 498.32v-4.8M1008.08 332.48v4.8M1018.11 498.32v-4.8M1018.11 332.48v4.8M1028.14 498.32v-4.8M1028.14 332.48v4.8M1038.17 498.32v-4.8M1038.17 332.48v4.8M1048.2 498.32v-9.4M1048.2 332.48v9.4M1058.23 498.32v-4.8M1058.23 332.48v4.8M1068.26 498.32v-4.8M1068.26 332.48v4.8M1078.29 498.32v-4.8M1078.29 332.48v4.8M1088.32 498.32v-4.8M1088.32 332.48v4.8M1098.35 498.32v-9.4M1098.35 332.48v9.4M1108.38 498.32v-4.8M1108.38 332.48v4.8M1118.41 498.32v-4.8M1118.41 332.48v4.8M1128.44 498.32v-4.8M1128.44 332.48v4.8M967.5 335.26h4.8M1129.28 335.26h-4.8M967.5 355.5h9.4M1129.28 355.5h-9.4M967.5 375.74h4.8M1129.28 375.74h-4.8M967.5 395.98h4.8M1129.28 395.98h-4.8M967.5 416.22h4.8M1129.28 416.22h-4.8M967.5 436.46h4.8M1129.28 436.46h-4.8M967.5 456.7h9.4M1129.28 456.7h-9.4M967.5 476.94h4.8M1129.28 476.94h-4.8M967.5 497.18h4.8M1129.28 497.18h-4.8M1145.16 498.32v-4.8M1145.16 332.48v4.8M1161.32 498.32v-4.8M1161.32 332.48v4.8M1177.48 498.32v-4.8M1177.48 332.48v4.8M1193.64 498.32v-4.8M1193.64 332.48v4.8M1209.8 498.32v-9.4M1209.8 332.48v9.4M1225.96 498.32v-4.8M1225.96 332.48v4.8M1242.12 498.32v-4.8M1242.12 332.48v4.8M1258.28 498.32v-4.8M1258.28 332.48v4.8M1274.44 498.32v-4.8M1274.44 332.48v4.8M1129.28 335.26h4.8M1291.06 335.26h-4.8M1129.28 355.5h9.4M1291.06 355.5h-9.4M1129.28 375.74h4.8M1291.06 375.74h-4.8M1129.28 395.98h4.8M1291.06 395.98h-4.8M1129.28 416.22h4.8M1291.06 416.22h-4.8M1129.28 436.46h4.8M1291.06 436.46h-4.8M1129.28 456.7h9.4M1291.06 456.7h-9.4M1129.28 476.94h4.8M1291.06 476.94h-4.8M1129.28 497.18h4.8M1291.06 497.18h-4.8M165.52 664.16v-4.8M165.52 498.32v4.8M182.14 664.16v-4.8M182.14 498.32v4.8M198.76 664.16v-4.8M198.76 498.32v4.8M215.38 664.16v-4.8M215.38 498.32v4.8M232 664.16v-9.4M232 498.32v9.4M248.62 664.16v-4.8M248.62 498.32v4.8M265.24 664.16v-4.8M265.24 498.32v4.8M281.86 664.16v-4.8M281.86 498.32v4.8M298.48 664.16v-4.8M298.48 498.32v4.8M315.1 664.16v-9.4M315.1 498.32v9.4M158.6 507.1h4.8M320.38 507.1h-4.8M158.6 521.9h4.8M320.38 521.9h-4.8M158.6 536.7h9.4M320.38 536.7h-9.4M158.6 551.5h4.8M320.38 551.5h-4.8M158.6 566.3h4.8M320.38 566.3h-4.8M158.6 581.1h4.8M320.38 581.1h-4.8M158.6 595.9h4.8M320.38 595.9h-4.8M158.6 610.7h9.4M320.38 610.7h-9.4M158.6 625.5h4.8M320.38 625.5h-4.8M158.6 640.3h4.8M320.38 640.3h-4.8M158.6 655.1h4.8M320.38 655.1h-4.8M327.04 664.16v-4.8M327.04 498.32v4.8M341.02 664.16v-4.8M341.02 498.32v4.8M355 664.16v-9.4M355 498.32v9.4M368.98 664.16v-4.8M368.98 498.32v4.8M382.96 664.16v-4.8M382.96 498.32v4.8M396.94 664.16v-4.8M396.94 498.32v4.8M410.92 664.16v-4.8M410.92 498.32v4.8M424.9 664.16v-9.4M424.9 498.32v9.4M438.88 664.16v-4.8M438.88 498.32v4.8M452.86 664.16v-4.8M452.86 498.32v4.8M466.84 664.16v-4.8M466.84 498.32v4.8M480.82 664.16v-4.8M480.82 498.32v4.8M320.38 507.1h4.8M482.16 507.1h-4.8M320.38 521.9h4.8M482.16 521.9h-4.8M320.38 536.7h9.4M482.16 536.7h-9.4M320.38 551.5h4.8M482.16 551.5h-4.8M320.38 566.3h4.8M482.16 566.3h-4.8M320.38 581.1h4.8M482.16 581.1h-4.8M320.38 595.9h4.8M482.16 595.9h-4.8M320.38 610.7h9.4M482.16 610.7h-9.4M320.38 625.5h4.8M482.16 625.5h-4.8M320.38 640.3h4.8M482.16 640.3h-4.8M320.38 655.1h4.8M482.16 655.1h-4.8M489.5 664.16v-9.4M489.5 498.32v9.4M509.66 664.16v-4.8M509.66 498.32v4.8M529.82 664.16v-4.8M529.82 498.32v4.8M549.98 664.16v-4.8M549.98 498.32v4.8M570.14 664.16v-4.8M570.14 498.32v4.8M590.3 664.16v-9.4M590.3 498.32v9.4M610.46 664.16v-4.8M610.46 498.32v4.8M630.62 664.16v-4.8M630.62 498.32v4.8M482.16 507.1h4.8M643.94 507.1h-4.8M482.16 521.9h4.8M643.94 521.9h-4.8M482.16 536.7h9.4M643.94 536.7h-9.4M482.16 551.5h4.8M643.94 551.5h-4.8M482.16 566.3h4.8M643.94 566.3h-4.8M482.16 581.1h4.8M643.94 581.1h-4.8M482.16 595.9h4.8M643.94 595.9h-4.8M482.16 610.7h9.4M643.94 610.7h-9.4M482.16 625.5h4.8M643.94 625.5h-4.8M482.16 640.3h4.8M643.94 640.3h-4.8M482.16 655.1h4.8M643.94 655.1h-4.8M659.9 664.16v-9.4M659.9 498.32v9.4M687.22 664.16v-4.8M687.22 498.32v4.8M714.54 664.16v-4.8M714.54 498.32v4.8M741.86 664.16v-4.8M741.86 498.32v4.8M769.18 664.16v-4.8M769.18 498.32v4.8M796.5 664.16v-9.4M796.5 498.32v9.4M643.94 507.1h4.8M805.72 507.1h-4.8M643.94 521.9h4.8M805.72 521.9h-4.8M643.94 536.7h9.4M805.72 536.7h-9.4M643.94 551.5h4.8M805.72 551.5h-4.8M643.94 566.3h4.8M805.72 566.3h-4.8M643.94 581.1h4.8M805.72 581.1h-4.8M643.94 595.9h4.8M805.72 595.9h-4.8M643.94 610.7h9.4M805.72 610.7h-9.4M643.94 625.5h4.8M805.72 625.5h-4.8M643.94 640.3h4.8M805.72 640.3h-4.8M643.94 655.1h4.8M805.72 655.1h-4.8M815.74 664.16v-4.8M815.74 498.32v4.8M831.16 664.16v-4.8M831.16 498.32v4.8M846.58 664.16v-4.8M846.58 498.32v4.8M862 664.16v-9.4M862 498.32v9.4M877.42 664.16v-4.8M877.42 498.32v4.8M892.84 664.16v-4.8M892.84 498.32v4.8M908.26 664.16v-4.8M908.26 498.32v4.8M923.68 664.16v-4.8M923.68 498.32v4.8M939.1 664.16v-9.4M939.1 498.32v9.4M954.52 664.16v-4.8M954.52 498.32v4.8M805.72 507.1h4.8M967.5 507.1h-4.8M805.72 521.9h4.8M967.5 521.9h-4.8M805.72 536.7h9.4M967.5 536.7h-9.4M805.72 551.5h4.8M967.5 551.5h-4.8M805.72 566.3h4.8M967.5 566.3h-4.8M805.72 581.1h4.8M967.5 581.1h-4.8M805.72 595.9h4.8M967.5 595.9h-4.8M805.72 610.7h9.4M967.5 610.7h-9.4M805.72 625.5h4.8M967.5 625.5h-4.8M805.72 640.3h4.8M967.5 640.3h-4.8M805.72 655.1h4.8M967.5 655.1h-4.8M977.99 664.16v-4.8M977.99 498.32v4.8M988.02 664.16v-4.8M988.02 498.32v4.8M998.05 664.16v-9.4M998.05 498.32v9.4M1008.08 664.16v-4.8M1008.08 498.32v4.8M1018.11 664.16v-4.8M1018.11 498.32v4.8M1028.14 664.16v-4.8M1028.14 498.32v4.8M1038.17 664.16v-4.8M1038.17 498.32v4.8M1048.2 664.16v-9.4M1048.2 498.32v9.4M1058.23 664.16v-4.8M1058.23 498.32v4.8M1068.26 664.16v-4.8M1068.26 498.32v4.8M1078.29 664.16v-4.8M1078.29 498.32v4.8M1088.32 664.16v-4.8M1088.32 498.32v4.8M1098.35 664.16v-9.4M1098.35 498.32v9.4M1108.38 664.16v-4.8M1108.38 498.32v4.8M1118.41 664.16v-4.8M1118.41 498.32v4.8M1128.44 664.16v-4.8M1128.44 498.32v4.8M967.5 507.1h4.8M1129.28 507.1h-4.8M967.5 521.9h4.8M1129.28 521.9h-4.8M967.5 536.7h9.4M1129.28 536.7h-9.4M967.5 551.5h4.8M1129.28 551.5h-4.8M967.5 566.3h4.8M1129.28 566.3h-4.8M967.5 581.1h4.8M1129.28 581.1h-4.8M967.5 595.9h4.8M1129.28 595.9h-4.8M967.5 610.7h9.4M1129.28 610.7h-9.4M967.5 625.5h4.8M1129.28 625.5h-4.8M967.5 640.3h4.8M1129.28 640.3h-4.8M967.5 655.1h4.8M1129.28 655.1h-4.8M1145.16 664.16v-4.8M1145.16 498.32v4.8M1161.32 664.16v-4.8M1161.32 498.32v4.8M1177.48 664.16v-4.8M1177.48 498.32v4.8M1193.64 664.16v-4.8M1193.64 498.32v4.8M1209.8 664.16v-9.4M1209.8 498.32v9.4M1225.96 664.16v-4.8M1225.96 498.32v4.8M1242.12 664.16v-4.8M1242.12 498.32v4.8M1258.28 664.16v-4.8M1258.28 498.32v4.8M1274.44 664.16v-4.8M1274.44 498.32v4.8M1129.28 507.1h4.8M1291.06 507.1h-4.8M1129.28 521.9h4.8M1291.06 521.9h-4.8M1129.28 536.7h9.4M1291.06 536.7h-9.4M1129.28 551.5h4.8M1291.06 551.5h-4.8M1129.28 566.3h4.8M1291.06 566.3h-4.8M1129.28 581.1h4.8M1291.06 581.1h-4.8M1129.28 595.9h4.8M1291.06 595.9h-4.8M1129.28 610.7h9.4M1291.06 610.7h-9.4M1129.28 625.5h4.8M1291.06 625.5h-4.8M1129.28 640.3h4.8M1291.06 640.3h-4.8M1129.28 655.1h4.8M1291.06 655.1h-4.8M1311.28 664.16v-4.8M1311.28 498.32v4.8M1331.1 664.16v-9.4M1331.1 498.32v9.4M1350.92 664.16v-4.8M1350.92 498.32v4.8M1370.74 664.16v-4.8M1370.74 498.32v4.8M1390.56 664.16v-4.8M1390.56 498.32v4.8M1410.38 664.16v-4.8M1410.38 498.32v4.8M1430.2 664.16v-9.4M1430.2 498.32v9.4M1450.02 664.16v-4.8M1450.02 498.32v4.8M1291.06 507.1h4.8M1452.84 507.1h-4.8M1291.06 521.9h4.8M1452.84 521.9h-4.8M1291.06 536.7h9.4M1452.84 536.7h-9.4M1291.06 551.5h4.8M1452.84 551.5h-4.8M1291.06 566.3h4.8M1452.84 566.3h-4.8M1291.06 581.1h4.8M1452.84 581.1h-4.8M1291.06 595.9h4.8M1452.84 595.9h-4.8M1291.06 610.7h9.4M1452.84 610.7h-9.4M1291.06 625.5h4.8M1452.84 625.5h-4.8M1291.06 640.3h4.8M1452.84 640.3h-4.8M1291.06 655.1h4.8M1452.84 655.1h-4.8M165.52 830v-4.8M165.52 664.16v4.8M182.14 830v-4.8M182.14 664.16v4.8M198.76 830v-4.8M198.76 664.16v4.8M215.38 830v-4.8M215.38 664.16v4.8M232 830v-9.4M232 664.16v9.4M248.62 830v-4.8M248.62 664.16v4.8M265.24 830v-4.8M265.24 664.16v4.8M281.86 830v-4.8M281.86 664.16v4.8M298.48 830v-4.8M298.48 664.16v4.8M315.1 830v-9.4M315.1 664.16v9.4M158.6 680.78h4.8M320.38 680.78h-4.8M158.6 697.36h4.8M320.38 697.36h-4.8M158.6 713.94h4.8M320.38 713.94h-4.8M158.6 730.52h4.8M320.38 730.52h-4.8M158.6 747.1h9.4M320.38 747.1h-9.4M158.6 763.68h4.8M320.38 763.68h-4.8M158.6 780.26h4.8M320.38 780.26h-4.8M158.6 796.84h4.8M320.38 796.84h-4.8M158.6 813.42h4.8M320.38 813.42h-4.8M327.04 830v-4.8M327.04 664.16v4.8M341.02 830v-4.8M341.02 664.16v4.8M355 830v-9.4M355 664.16v9.4M368.98 830v-4.8M368.98 664.16v4.8M382.96 830v-4.8M382.96 664.16v4.8M396.94 830v-4.8M396.94 664.16v4.8M410.92 830v-4.8M410.92 664.16v4.8M424.9 830v-9.4M424.9 664.16v9.4M438.88 830v-4.8M438.88 664.16v4.8M452.86 830v-4.8M452.86 664.16v4.8M466.84 830v-4.8M466.84 664.16v4.8M480.82 830v-4.8M480.82 664.16v4.8M320.38 680.78h4.8M482.16 680.78h-4.8M320.38 697.36h4.8M482.16 697.36h-4.8M320.38 713.94h4.8M482.16 713.94h-4.8M320.38 730.52h4.8M482.16 730.52h-4.8M320.38 747.1h9.4M482.16 747.1h-9.4M320.38 763.68h4.8M482.16 763.68h-4.8M320.38 780.26h4.8M482.16 780.26h-4.8M320.38 796.84h4.8M482.16 796.84h-4.8M320.38 813.42h4.8M482.16 813.42h-4.8M489.5 830v-9.4M489.5 664.16v9.4M509.66 830v-4.8M509.66 664.16v4.8M529.82 830v-4.8M529.82 664.16v4.8M549.98 830v-4.8M549.98 664.16v4.8M570.14 830v-4.8M570.14 664.16v4.8M590.3 830v-9.4M590.3 664.16v9.4M610.46 830v-4.8M610.46 664.16v4.8M630.62 830v-4.8M630.62 664.16v4.8M482.16 680.78h4.8M643.94 680.78h-4.8M482.16 697.36h4.8M643.94 697.36h-4.8M482.16 713.94h4.8M643.94 713.94h-4.8M482.16 730.52h4.8M643.94 730.52h-4.8M482.16 747.1h9.4M643.94 747.1h-9.4M482.16 763.68h4.8M643.94 763.68h-4.8M482.16 780.26h4.8M643.94 780.26h-4.8M482.16 796.84h4.8M643.94 796.84h-4.8M482.16 813.42h4.8M643.94 813.42h-4.8M659.9 830v-9.4M659.9 664.16v9.4M687.22 830v-4.8M687.22 664.16v4.8M714.54 830v-4.8M714.54 664.16v4.8M741.86 830v-4.8M741.86 664.16v4.8M769.18 830v-4.8M769.18 664.16v4.8M796.5 830v-9.4M796.5 664.16v9.4M643.94 680.78h4.8M805.72 680.78h-4.8M643.94 697.36h4.8M805.72 697.36h-4.8M643.94 713.94h4.8M805.72 713.94h-4.8M643.94 730.52h4.8M805.72 730.52h-4.8M643.94 747.1h9.4M805.72 747.1h-9.4M643.94 763.68h4.8M805.72 763.68h-4.8M643.94 780.26h4.8M805.72 780.26h-4.8M643.94 796.84h4.8M805.72 796.84h-4.8M643.94 813.42h4.8M805.72 813.42h-4.8M815.74 830v-4.8M815.74 664.16v4.8M831.16 830v-4.8M831.16 664.16v4.8M846.58 830v-4.8M846.58 664.16v4.8M862 830v-9.4M862 664.16v9.4M877.42 830v-4.8M877.42 664.16v4.8M892.84 830v-4.8M892.84 664.16v4.8M908.26 830v-4.8M908.26 664.16v4.8M923.68 830v-4.8M923.68 664.16v4.8M939.1 830v-9.4M939.1 664.16v9.4M954.52 830v-4.8M954.52 664.16v4.8M805.72 680.78h4.8M967.5 680.78h-4.8M805.72 697.36h4.8M967.5 697.36h-4.8M805.72 713.94h4.8M967.5 713.94h-4.8M805.72 730.52h4.8M967.5 730.52h-4.8M805.72 747.1h9.4M967.5 747.1h-9.4M805.72 763.68h4.8M967.5 763.68h-4.8M805.72 780.26h4.8M967.5 780.26h-4.8M805.72 796.84h4.8M967.5 796.84h-4.8M805.72 813.42h4.8M967.5 813.42h-4.8M977.99 830v-4.8M977.99 664.16v4.8M988.02 830v-4.8M988.02 664.16v4.8M998.05 830v-9.4M998.05 664.16v9.4M1008.08 830v-4.8M1008.08 664.16v4.8M1018.11 830v-4.8M1018.11 664.16v4.8M1028.14 830v-4.8M1028.14 664.16v4.8M1038.17 830v-4.8M1038.17 664.16v4.8M1048.2 830v-9.4M1048.2 664.16v9.4M1058.23 830v-4.8M1058.23 664.16v4.8M1068.26 830v-4.8M1068.26 664.16v4.8M1078.29 830v-4.8M1078.29 664.16v4.8M1088.32 830v-4.8M1088.32 664.16v4.8M1098.35 830v-9.4M1098.35 664.16v9.4M1108.38 830v-4.8M1108.38 664.16v4.8M1118.41 830v-4.8M1118.41 664.16v4.8M1128.44 830v-4.8M1128.44 664.16v4.8M967.5 680.78h4.8M1129.28 680.78h-4.8M967.5 697.36h4.8M1129.28 697.36h-4.8M967.5 713.94h4.8M1129.28 713.94h-4.8M967.5 730.52h4.8M1129.28 730.52h-4.8M967.5 747.1h9.4M1129.28 747.1h-9.4M967.5 763.68h4.8M1129.28 763.68h-4.8M967.5 780.26h4.8M1129.28 780.26h-4.8M967.5 796.84h4.8M1129.28 796.84h-4.8M967.5 813.42h4.8M1129.28 813.42h-4.8M1145.16 830v-4.8M1145.16 664.16v4.8M1161.32 830v-4.8M1161.32 664.16v4.8M1177.48 830v-4.8M1177.48 664.16v4.8M1193.64 830v-4.8M1193.64 664.16v4.8M1209.8 830v-9.4M1209.8 664.16v9.4M1225.96 830v-4.8M1225.96 664.16v4.8M1242.12 830v-4.8M1242.12 664.16v4.8M1258.28 830v-4.8M1258.28 664.16v4.8M1274.44 830v-4.8M1274.44 664.16v4.8M1129.28 680.78h4.8M1291.06 680.78h-4.8M1129.28 697.36h4.8M1291.06 697.36h-4.8M1129.28 713.94h4.8M1291.06 713.94h-4.8M1129.28 730.52h4.8M1291.06 730.52h-4.8M1129.28 747.1h9.4M1291.06 747.1h-9.4M1129.28 763.68h4.8M1291.06 763.68h-4.8M1129.28 780.26h4.8M1291.06 780.26h-4.8M1129.28 796.84h4.8M1291.06 796.84h-4.8M1129.28 813.42h4.8M1291.06 813.42h-4.8M1311.28 830v-4.8M1311.28 664.16v4.8M1331.1 830v-9.4M1331.1 664.16v9.4M1350.92 830v-4.8M1350.92 664.16v4.8M1370.74 830v-4.8M1370.74 664.16v4.8M1390.56 830v-4.8M1390.56 664.16v4.8M1410.38 830v-4.8M1410.38 664.16v4.8M1430.2 830v-9.4M1430.2 664.16v9.4M1450.02 830v-4.8M1450.02 664.16v4.8M1291.06 680.78h4.8M1452.84 680.78h-4.8M1291.06 697.36h4.8M1452.84 697.36h-4.8M1291.06 713.94h4.8M1452.84 713.94h-4.8M1291.06 730.52h4.8M1452.84 730.52h-4.8M1291.06 747.1h9.4M1452.84 747.1h-9.4M1291.06 763.68h4.8M1452.84 763.68h-4.8M1291.06 780.26h4.8M1452.84 780.26h-4.8M1291.06 796.84h4.8M1452.84 796.84h-4.8M1291.06 813.42h4.8M1452.84 813.42h-4.8M1461.64 830v-4.8M1461.64 664.16v4.8M1476.06 830v-4.8M1476.06 664.16v4.8M1490.48 830v-4.8M1490.48 664.16v4.8M1504.9 830v-9.4M1504.9 664.16v9.4M1519.32 830v-4.8M1519.32 664.16v4.8M1533.74 830v-4.8M1533.74 664.16v4.8M1548.16 830v-4.8M1548.16 664.16v4.8M1562.58 830v-4.8M1562.58 664.16v4.8M1577 830v-9.4M1577 664.16v9.4M1591.42 830v-4.8M1591.42 664.16v4.8M1605.84 830v-4.8M1605.84 664.16v4.8M1452.84 680.78h4.8M1614.62 680.78h-4.8M1452.84 697.36h4.8M1614.62 697.36h-4.8M1452.84 713.94h4.8M1614.62 713.94h-4.8M1452.84 730.52h4.8M1614.62 730.52h-4.8M1452.84 747.1h9.4M1614.62 747.1h-9.4M1452.84 763.68h4.8M1614.62 763.68h-4.8M1452.84 780.26h4.8M1614.62 780.26h-4.8M1452.84 796.84h4.8M1614.62 796.84h-4.8M1452.84 813.42h4.8M1614.62 813.42h-4.8" stroke="#000" stroke-width="1.55" fill="none"/>
<path d="M158.6 0.8H320.38V166.64H158.6ZM320.38 0.8H482.16V166.64H320.38ZM482.16 0.8H643.94V166.64H482.16ZM643.94 0.8H805.72V166.64H643.94ZM805.72 0.8H967.5V166.64H805.72ZM158.6 166.64H320.38V332.48H158.6ZM320.38 166.64H482.16V332.48H320.38ZM482.16 166.64H643.94V332.48H482.16ZM643.94 166.64H805.72V332.48H643.94ZM805.72 166.64H967.5V332.48H805.72ZM967.5 166.64H1129.28V332.48H967.5ZM158.6 332.48H320.38V498.32H158.6ZM320.38 332.48H482.16V498.32H320.38ZM482.16 332.48H643.94V498.32H482.16ZM643.94 332.48H805.72V498.32H643.94ZM805.72 332.48H967.5V498.32H805.72ZM967.5 332.48H1129.28V498.32H967.5ZM1129.28 332.48H1291.06V498.32H1129.28ZM158.6 498.32H320.38V664.16H158.6ZM320.38 498.32H482.16V664.16H320.38ZM482.16 498.32H643.94V664.16H482.16ZM643.94 498.32H805.72V664.16H643.94ZM805.72 498.32H967.5V664.16H805.72ZM967.5 498.32H1129.28V664.16H967.5ZM1129.28 498.32H1291.06V664.16H1129.28ZM1291.06 498.32H1452.84V664.16H1291.06ZM158.6 664.16H320.38V830H158.6ZM320.38 664.16H482.16V830H320.38ZM482.16 664.16H643.94V830H482.16ZM643.94 664.16H805.72V830H643.94ZM805.72 664.16H967.5V830H805.72ZM967.5 664.16H1129.28V830H967.5ZM1129.28 664.16H1291.06V830H1129.28ZM1291.06 664.16H1452.84V830H1291.06ZM1452.84 664.16H1614.62V830H1452.84Z" stroke="#000" stroke-width="1.65" fill="none" stroke-linejoin="miter"/>
<text x="149.6" y="42.3" font-size="31" text-anchor="end">-0.90</text>
<text x="149.6" y="94.4" font-size="31" text-anchor="end">-1.00</text>
<text x="149.6" y="146.3" font-size="31" text-anchor="end">-1.10</text>
<text x="149.6" y="177.0" font-size="31" text-anchor="end">1.20</text>
<text x="149.6" y="260.0" font-size="31" text-anchor="end">1.00</text>
<text x="149.6" y="342.9" font-size="31" text-anchor="end">0.80</text>
<text x="149.6" y="365.9" font-size="31" text-anchor="end">2.50</text>
<text x="149.6" y="467.1" font-size="31" text-anchor="end">0.00</text>
<text x="149.6" y="547.2" font-size="31" text-anchor="end">2.50</text>
<text x="149.6" y="621.2" font-size="31" text-anchor="end">0.00</text>
<text x="149.6" y="674.7" font-size="31" text-anchor="end">2.00</text>
<text x="149.6" y="757.6" font-size="31" text-anchor="end">0.00</text>
<text x="149.6" y="840.5" font-size="31" text-anchor="end">-2.00</text>
<text font-size="31" text-anchor="end" transform="translate(227.5 856.8) rotate(-30)">3.00</text>
<text font-size="31" text-anchor="end" transform="translate(310.6 856.8) rotate(-30)">3.50</text>
<text font-size="31" text-anchor="end" transform="translate(350.5 856.8) rotate(-30)">0.90</text>
<text font-size="31" text-anchor="end" transform="translate(420.4 856.8) rotate(-30)">1.00</text>
<text font-size="31" text-anchor="end" transform="translate(485.0 856.8) rotate(-30)">0.60</text>
<text font-size="31" text-anchor="end" transform="translate(585.8 856.8) rotate(-30)">0.70</text>
<text font-size="31" text-anchor="end" transform="translate(655.4 856.8) rotate(-30)">0.04</text>
<text font-size="31" text-anchor="end" transform="translate(792.0 856.8) rotate(-30)">0.06</text>
<text font-size="31" text-anchor="end" transform="translate(857.5 856.8) rotate(-30)">0.25</text>
<text font-size="31" text-anchor="end" transform="translate(934.6 856.8) rotate(-30)">0.30</text>
<text font-size="31" text-anchor="end" transform="translate(993.5 856.8) rotate(-30)">-1.10</text>
<text font-size="31" text-anchor="end" transform="translate(1043.7 856.8) rotate(-30)">-1.00</text>
<text font-size="31" text-anchor="end" transform="translate(1093.8 856.8) rotate(-30)">-0.90</text>
<text font-size="31" text-anchor="end" transform="translate(1124.6 856.8) rotate(-30)">0.80</text>
<text font-size="31" text-anchor="end" transform="translate(1205.3 856.8) rotate(-30)">1.00</text>
<text font-size="31" text-anchor="end" transform="translate(1286.1 856.8) rotate(-30)">1.20</text>
<text font-size="31" text-anchor="end" transform="translate(1326.6 856.8) rotate(-30)">0.00</text>
<text font-size="31" text-anchor="end" transform="translate(1425.7 856.8) rotate(-30)">2.50</text>
<text font-size="31" text-anchor="end" transform="translate(1500.4 856.8) rotate(-30)">0.00</text>
<text font-size="31" text-anchor="end" transform="translate(1572.5 856.8) rotate(-30)">2.50</text>
<text x="161.4" y="950.7" font-size="37.2">ln<tspan dx="1.2">(</tspan><tspan dx="0.6">10</tspan><tspan font-size="27.2" dy="-12.6" dx="0.4">10</tspan><tspan dy="12.6" dx="-1.0" font-style="italic">A</tspan><tspan font-size="27.2" dy="6.0" dx="-0.8" font-style="italic">s</tspan><tspan dy="-6.0" dx="0.6">)</tspan></text>
<text x="401.3" y="950.7" font-size="37.2" text-anchor="middle"><tspan font-style="italic">n</tspan><tspan font-size="27.2" dy="6.0" font-style="italic">s</tspan></text>
<text x="563.0" y="950.7" font-size="37.2" text-anchor="middle"><tspan font-style="italic">h</tspan></text>
<text x="724.8" y="950.7" font-size="37.2" text-anchor="middle"><tspan stroke="#000" stroke-width="0.55">Ω</tspan><tspan font-size="27.2" dy="6.0" font-style="italic">b</tspan></text>
<text x="886.6" y="950.7" font-size="37.2" text-anchor="middle"><tspan stroke="#000" stroke-width="0.55">Ω</tspan><tspan font-size="27.2" dy="6.0" font-style="italic">c</tspan></text>
<text x="1048.4" y="950.7" font-size="37.2" text-anchor="middle"><tspan font-style="italic">w</tspan><tspan font-size="27.2" dy="6.0" >0</tspan></text>
<text x="1210.2" y="950.7" font-size="37.2" text-anchor="middle"><tspan font-style="italic">w</tspan><tspan font-size="27.2" dy="6.0" font-style="italic">a</tspan></text>
<text x="1346.2" y="956.1" font-size="37.2"><tspan font-style="italic">c</tspan><tspan font-size="27.2" dx="-0.72" dy="10.4" font-style="italic">M</tspan><tspan font-size="30.7" dx="-22.02" dy="-29.4">(</tspan><tspan font-size="27.2" dy="-0.7" dx="-0.6">0</tspan><tspan font-size="30.7" dy="0.7">)</tspan></text>
<text x="1508.0" y="956.1" font-size="37.2"><tspan font-style="italic">c</tspan><tspan font-size="27.2" dx="-0.72" dy="10.4" font-style="italic">M</tspan><tspan font-size="30.7" dx="-22.02" dy="-29.4">(</tspan><tspan font-size="27.2" dy="-0.7" dx="-0.6">1</tspan><tspan font-size="30.7" dy="0.7">)</tspan></text>
<text font-size="37.2" text-anchor="middle" transform="translate(47.6 89.9) rotate(-90)"><tspan font-style="italic">w</tspan><tspan font-size="27.2" dy="6.0" >0</tspan></text>
<text font-size="37.2" text-anchor="middle" transform="translate(47.6 255.8) rotate(-90)"><tspan font-style="italic">w</tspan><tspan font-size="27.2" dy="6.0" font-style="italic">a</tspan></text>
<text font-size="37.2" transform="translate(40.0 451.6) rotate(-90)"><tspan font-style="italic">c</tspan><tspan font-size="27.2" dx="-0.72" dy="10.4" font-style="italic">M</tspan><tspan font-size="30.7" dx="-22.02" dy="-29.4">(</tspan><tspan font-size="27.2" dy="-0.7" dx="-0.6">0</tspan><tspan font-size="30.7" dy="0.7">)</tspan></text>
<text font-size="37.2" transform="translate(40.0 617.4) rotate(-90)"><tspan font-style="italic">c</tspan><tspan font-size="27.2" dx="-0.72" dy="10.4" font-style="italic">M</tspan><tspan font-size="30.7" dx="-22.02" dy="-29.4">(</tspan><tspan font-size="27.2" dy="-0.7" dx="-0.6">1</tspan><tspan font-size="30.7" dy="0.7">)</tspan></text>
<text font-size="37.2" transform="translate(40.0 783.3) rotate(-90)"><tspan font-style="italic">c</tspan><tspan font-size="27.2" dx="-0.72" dy="10.4" font-style="italic">M</tspan><tspan font-size="30.7" dx="-22.02" dy="-29.4">(</tspan><tspan font-size="27.2" dy="-0.7" dx="-0.6">2</tspan><tspan font-size="30.7" dy="0.7">)</tspan></text>
<rect x="1480" y="28.5" width="67" height="24.6" fill="#4a97c7"/>
<rect x="1480" y="74.0" width="67" height="24.6" fill="#e4572e"/>
<text x="1571.4" y="52.4" font-size="31.8">LIM</text>
<text y="97.8" font-size="31.8"><tspan x="1571.4">Planck</tspan><tspan x="1665.6" font-size="34.5" dy="3.6" stroke="#000" stroke-width="0.5">+</tspan><tspan x="1692.3" dy="-3.6">LIM</tspan></text>
<g clip-path="url(#cb00)">
<ellipse cx="239.20" cy="1077.90" rx="64.59" ry="50.89" fill="#a9c8e0" transform="rotate(19.55 239.20 1077.90)"/>
<ellipse cx="239.20" cy="1077.90" rx="39.41" ry="31.05" fill="#4a97c7" transform="rotate(19.55 239.20 1077.90)"/>
<ellipse cx="239.20" cy="1077.90" rx="36.50" ry="6.25" fill="#f3a994" transform="rotate(90.00 239.20 1077.90)"/>
<ellipse cx="239.20" cy="1077.90" rx="22.27" ry="3.81" fill="#e4572e" transform="rotate(90.00 239.20 1077.90)"/>
</g>
<g clip-path="url(#cb10)">
<ellipse cx="401.00" cy="1077.90" rx="59.91" ry="44.92" fill="#a9c8e0" transform="rotate(136.35 401.00 1077.90)"/>
<ellipse cx="401.00" cy="1077.90" rx="36.56" ry="27.41" fill="#4a97c7" transform="rotate(136.35 401.00 1077.90)"/>
<ellipse cx="401.00" cy="1077.90" rx="36.50" ry="6.10" fill="#f3a994" transform="rotate(90.00 401.00 1077.90)"/>
<ellipse cx="401.00" cy="1077.90" rx="22.27" ry="3.72" fill="#e4572e" transform="rotate(90.00 401.00 1077.90)"/>
</g>
<g clip-path="url(#cb20)">
<ellipse cx="563.00" cy="1077.90" rx="79.39" ry="41.66" fill="#a9c8e0" transform="rotate(28.37 563.00 1077.90)"/>
<ellipse cx="563.00" cy="1077.90" rx="48.44" ry="25.42" fill="#4a97c7" transform="rotate(28.37 563.00 1077.90)"/>
<ellipse cx="563.00" cy="1077.90" rx="36.50" ry="7.20" fill="#f3a994" transform="rotate(90.00 563.00 1077.90)"/>
<ellipse cx="563.00" cy="1077.90" rx="22.27" ry="4.39" fill="#e4572e" transform="rotate(90.00 563.00 1077.90)"/>
</g>
<g clip-path="url(#cb30)">
<ellipse cx="724.40" cy="1077.90" rx="66.80" ry="28.00" fill="#a9c8e0" transform="rotate(132.76 724.40 1077.90)"/>
<ellipse cx="724.40" cy="1077.90" rx="40.76" ry="17.09" fill="#4a97c7" transform="rotate(132.76 724.40 1077.90)"/>
<ellipse cx="724.40" cy="1077.90" rx="36.50" ry="5.70" fill="#f3a994" transform="rotate(90.00 724.40 1077.90)"/>
<ellipse cx="724.40" cy="1077.90" rx="22.27" ry="3.48" fill="#e4572e" transform="rotate(90.00 724.40 1077.90)"/>
</g>
<g clip-path="url(#cb40)">
<ellipse cx="886.30" cy="1077.90" rx="67.03" ry="43.84" fill="#a9c8e0" transform="rotate(145.03 886.30 1077.90)"/>
<ellipse cx="886.30" cy="1077.90" rx="40.90" ry="26.75" fill="#4a97c7" transform="rotate(145.03 886.30 1077.90)"/>
<ellipse cx="886.30" cy="1077.90" rx="36.53" ry="13.62" fill="#f3a994" transform="rotate(92.50 886.30 1077.90)"/>
<ellipse cx="886.30" cy="1077.90" rx="22.29" ry="8.31" fill="#e4572e" transform="rotate(92.50 886.30 1077.90)"/>
</g>
<g clip-path="url(#cb01)">
<ellipse cx="239.20" cy="1243.90" rx="63.73" ry="61.55" fill="#a9c8e0" transform="rotate(29.83 239.20 1243.90)"/>
<ellipse cx="239.20" cy="1243.90" rx="38.88" ry="37.56" fill="#4a97c7" transform="rotate(29.83 239.20 1243.90)"/>
<ellipse cx="239.20" cy="1243.90" rx="29.00" ry="6.25" fill="#f3a994" transform="rotate(90.00 239.20 1243.90)"/>
<ellipse cx="239.20" cy="1243.90" rx="17.69" ry="3.81" fill="#e4572e" transform="rotate(90.00 239.20 1243.90)"/>
</g>
<g clip-path="url(#cb11)">
<ellipse cx="401.00" cy="1243.90" rx="71.72" ry="39.42" fill="#a9c8e0" transform="rotate(53.22 401.00 1243.90)"/>
<ellipse cx="401.00" cy="1243.90" rx="43.76" ry="24.05" fill="#4a97c7" transform="rotate(53.22 401.00 1243.90)"/>
<ellipse cx="401.00" cy="1243.90" rx="29.00" ry="6.10" fill="#f3a994" transform="rotate(90.00 401.00 1243.90)"/>
<ellipse cx="401.00" cy="1243.90" rx="17.69" ry="3.72" fill="#e4572e" transform="rotate(90.00 401.00 1243.90)"/>
</g>
<g clip-path="url(#cb21)">
<ellipse cx="563.00" cy="1243.90" rx="89.03" ry="34.67" fill="#a9c8e0" transform="rotate(141.07 563.00 1243.90)"/>
<ellipse cx="563.00" cy="1243.90" rx="54.32" ry="21.15" fill="#4a97c7" transform="rotate(141.07 563.00 1243.90)"/>
<ellipse cx="563.00" cy="1243.90" rx="29.05" ry="7.01" fill="#f3a994" transform="rotate(93.32 563.00 1243.90)"/>
<ellipse cx="563.00" cy="1243.90" rx="17.72" ry="4.28" fill="#e4572e" transform="rotate(93.32 563.00 1243.90)"/>
</g>
<g clip-path="url(#cb31)">
<ellipse cx="724.40" cy="1243.90" rx="76.52" ry="21.93" fill="#a9c8e0" transform="rotate(52.42 724.40 1243.90)"/>
<ellipse cx="724.40" cy="1243.90" rx="46.69" ry="13.38" fill="#4a97c7" transform="rotate(52.42 724.40 1243.90)"/>
<ellipse cx="724.40" cy="1243.90" rx="29.01" ry="5.67" fill="#f3a994" transform="rotate(88.83 724.40 1243.90)"/>
<ellipse cx="724.40" cy="1243.90" rx="17.70" ry="3.46" fill="#e4572e" transform="rotate(88.83 724.40 1243.90)"/>
</g>
<g clip-path="url(#cb41)">
<ellipse cx="886.30" cy="1243.90" rx="78.45" ry="36.74" fill="#a9c8e0" transform="rotate(46.24 886.30 1243.90)"/>
<ellipse cx="886.30" cy="1243.90" rx="47.87" ry="22.41" fill="#4a97c7" transform="rotate(46.24 886.30 1243.90)"/>
<ellipse cx="886.30" cy="1243.90" rx="29.25" ry="13.15" fill="#f3a994" transform="rotate(81.54 886.30 1243.90)"/>
<ellipse cx="886.30" cy="1243.90" rx="17.85" ry="8.02" fill="#e4572e" transform="rotate(81.54 886.30 1243.90)"/>
</g>
<g clip-path="url(#cb51)">
<ellipse cx="1048.10" cy="1243.90" rx="78.83" ry="16.88" fill="#a9c8e0" transform="rotate(50.91 1048.10 1243.90)"/>
<ellipse cx="1048.10" cy="1243.90" rx="48.09" ry="10.30" fill="#4a97c7" transform="rotate(50.91 1048.10 1243.90)"/>
<ellipse cx="1048.10" cy="1243.90" rx="45.43" ry="6.11" fill="#f3a994" transform="rotate(39.03 1048.10 1243.90)"/>
<ellipse cx="1048.10" cy="1243.90" rx="27.72" ry="3.73" fill="#e4572e" transform="rotate(39.03 1048.10 1243.90)"/>
</g>
<g clip-path="url(#cb02)">
<ellipse cx="239.20" cy="1410.30" rx="65.45" ry="39.39" fill="#a9c8e0" transform="rotate(18.99 239.20 1410.30)"/>
<ellipse cx="239.20" cy="1410.30" rx="39.93" ry="24.03" fill="#4a97c7" transform="rotate(18.99 239.20 1410.30)"/>
<ellipse cx="239.20" cy="1410.30" rx="34.00" ry="6.24" fill="#f3a994" transform="rotate(89.46 239.20 1410.30)"/>
<ellipse cx="239.20" cy="1410.30" rx="20.75" ry="3.81" fill="#e4572e" transform="rotate(89.46 239.20 1410.30)"/>
</g>
<g clip-path="url(#cb12)">
<ellipse cx="401.00" cy="1410.30" rx="60.95" ry="31.08" fill="#a9c8e0" transform="rotate(34.33 401.00 1410.30)"/>
<ellipse cx="401.00" cy="1410.30" rx="37.19" ry="18.96" fill="#4a97c7" transform="rotate(34.33 401.00 1410.30)"/>
<ellipse cx="401.00" cy="1410.30" rx="34.01" ry="6.07" fill="#f3a994" transform="rotate(88.94 401.00 1410.30)"/>
<ellipse cx="401.00" cy="1410.30" rx="20.75" ry="3.70" fill="#e4572e" transform="rotate(88.94 401.00 1410.30)"/>
</g>
<g clip-path="url(#cb22)">
<ellipse cx="563.00" cy="1410.30" rx="77.76" ry="32.63" fill="#a9c8e0" transform="rotate(156.76 563.00 1410.30)"/>
<ellipse cx="563.00" cy="1410.30" rx="47.44" ry="19.91" fill="#4a97c7" transform="rotate(156.76 563.00 1410.30)"/>
<ellipse cx="563.00" cy="1410.30" rx="34.07" ry="6.85" fill="#f3a994" transform="rotate(86.21 563.00 1410.30)"/>
<ellipse cx="563.00" cy="1410.30" rx="20.79" ry="4.18" fill="#e4572e" transform="rotate(86.21 563.00 1410.30)"/>
</g>
<g clip-path="url(#cb32)">
<ellipse cx="724.40" cy="1410.30" rx="56.51" ry="33.57" fill="#a9c8e0" transform="rotate(35.99 724.40 1410.30)"/>
<ellipse cx="724.40" cy="1410.30" rx="34.48" ry="20.48" fill="#4a97c7" transform="rotate(35.99 724.40 1410.30)"/>
<ellipse cx="724.40" cy="1410.30" rx="34.06" ry="5.33" fill="#f3a994" transform="rotate(93.44 724.40 1410.30)"/>
<ellipse cx="724.40" cy="1410.30" rx="20.78" ry="3.25" fill="#e4572e" transform="rotate(93.44 724.40 1410.30)"/>
</g>
<g clip-path="url(#cb42)">
<ellipse cx="886.30" cy="1410.30" rx="65.44" ry="34.74" fill="#a9c8e0" transform="rotate(27.00 886.30 1410.30)"/>
<ellipse cx="886.30" cy="1410.30" rx="39.92" ry="21.20" fill="#4a97c7" transform="rotate(27.00 886.30 1410.30)"/>
<ellipse cx="886.30" cy="1410.30" rx="34.69" ry="11.85" fill="#f3a994" transform="rotate(102.17 886.30 1410.30)"/>
<ellipse cx="886.30" cy="1410.30" rx="21.16" ry="7.23" fill="#e4572e" transform="rotate(102.17 886.30 1410.30)"/>
</g>
<g clip-path="url(#cb52)">
<ellipse cx="1048.10" cy="1410.30" rx="62.84" ry="23.09" fill="#a9c8e0" transform="rotate(38.22 1048.10 1410.30)"/>
<ellipse cx="1048.10" cy="1410.30" rx="38.34" ry="14.09" fill="#4a97c7" transform="rotate(38.22 1048.10 1410.30)"/>
<ellipse cx="1048.10" cy="1410.30" rx="46.44" ry="16.10" fill="#f3a994" transform="rotate(43.43 1048.10 1410.30)"/>
<ellipse cx="1048.10" cy="1410.30" rx="28.34" ry="9.82" fill="#e4572e" transform="rotate(43.43 1048.10 1410.30)"/>
</g>
<g clip-path="url(#cb62)">
<ellipse cx="1209.80" cy="1410.30" rx="69.20" ry="27.80" fill="#a9c8e0" transform="rotate(148.96 1209.80 1410.30)"/>
<ellipse cx="1209.80" cy="1410.30" rx="42.22" ry="16.96" fill="#4a97c7" transform="rotate(148.96 1209.80 1410.30)"/>
<ellipse cx="1209.80" cy="1410.30" rx="39.83" ry="19.26" fill="#f3a994" transform="rotate(126.51 1209.80 1410.30)"/>
<ellipse cx="1209.80" cy="1410.30" rx="24.30" ry="11.75" fill="#e4572e" transform="rotate(126.51 1209.80 1410.30)"/>
</g>
<g clip-path="url(#cb03)">
<ellipse cx="239.20" cy="1575.80" rx="66.17" ry="40.85" fill="#a9c8e0" transform="rotate(22.11 239.20 1575.80)"/>
<ellipse cx="239.20" cy="1575.80" rx="40.37" ry="24.92" fill="#4a97c7" transform="rotate(22.11 239.20 1575.80)"/>
<ellipse cx="239.20" cy="1575.80" rx="33.60" ry="6.24" fill="#f3a994" transform="rotate(89.45 239.20 1575.80)"/>
<ellipse cx="239.20" cy="1575.80" rx="20.50" ry="3.81" fill="#e4572e" transform="rotate(89.45 239.20 1575.80)"/>
</g>
<g clip-path="url(#cb13)">
<ellipse cx="401.00" cy="1575.80" rx="62.46" ry="31.49" fill="#a9c8e0" transform="rotate(37.14 401.00 1575.80)"/>
<ellipse cx="401.00" cy="1575.80" rx="38.11" ry="19.21" fill="#4a97c7" transform="rotate(37.14 401.00 1575.80)"/>
<ellipse cx="401.00" cy="1575.80" rx="33.61" ry="6.07" fill="#f3a994" transform="rotate(88.92 401.00 1575.80)"/>
<ellipse cx="401.00" cy="1575.80" rx="20.50" ry="3.70" fill="#e4572e" transform="rotate(88.92 401.00 1575.80)"/>
</g>
<g clip-path="url(#cb23)">
<ellipse cx="563.00" cy="1575.80" rx="78.95" ry="33.01" fill="#a9c8e0" transform="rotate(154.37 563.00 1575.80)"/>
<ellipse cx="563.00" cy="1575.80" rx="48.17" ry="20.14" fill="#4a97c7" transform="rotate(154.37 563.00 1575.80)"/>
<ellipse cx="563.00" cy="1575.80" rx="33.67" ry="6.85" fill="#f3a994" transform="rotate(86.16 563.00 1575.80)"/>
<ellipse cx="563.00" cy="1575.80" rx="20.54" ry="4.18" fill="#e4572e" transform="rotate(86.16 563.00 1575.80)"/>
</g>
<g clip-path="url(#cb33)">
<ellipse cx="724.40" cy="1575.80" rx="58.05" ry="34.09" fill="#a9c8e0" transform="rotate(39.41 724.40 1575.80)"/>
<ellipse cx="724.40" cy="1575.80" rx="35.42" ry="20.80" fill="#4a97c7" transform="rotate(39.41 724.40 1575.80)"/>
<ellipse cx="724.40" cy="1575.80" rx="33.66" ry="5.33" fill="#f3a994" transform="rotate(93.49 724.40 1575.80)"/>
<ellipse cx="724.40" cy="1575.80" rx="20.54" ry="3.25" fill="#e4572e" transform="rotate(93.49 724.40 1575.80)"/>
</g>
<g clip-path="url(#cb43)">
<ellipse cx="886.30" cy="1575.80" rx="66.59" ry="35.59" fill="#a9c8e0" transform="rotate(29.87 886.30 1575.80)"/>
<ellipse cx="886.30" cy="1575.80" rx="40.63" ry="21.71" fill="#4a97c7" transform="rotate(29.87 886.30 1575.80)"/>
<ellipse cx="886.30" cy="1575.80" rx="34.27" ry="11.93" fill="#f3a994" transform="rotate(102.11 886.30 1575.80)"/>
<ellipse cx="886.30" cy="1575.80" rx="20.91" ry="7.28" fill="#e4572e" transform="rotate(102.11 886.30 1575.80)"/>
</g>
<g clip-path="url(#cb53)">
<ellipse cx="1048.10" cy="1575.80" rx="64.23" ry="23.86" fill="#a9c8e0" transform="rotate(40.23 1048.10 1575.80)"/>
<ellipse cx="1048.10" cy="1575.80" rx="39.19" ry="14.55" fill="#4a97c7" transform="rotate(40.23 1048.10 1575.80)"/>
<ellipse cx="1048.10" cy="1575.80" rx="46.19" ry="16.00" fill="#f3a994" transform="rotate(42.99 1048.10 1575.80)"/>
<ellipse cx="1048.10" cy="1575.80" rx="28.18" ry="9.76" fill="#e4572e" transform="rotate(42.99 1048.10 1575.80)"/>
</g>
<g clip-path="url(#cb63)">
<ellipse cx="1209.80" cy="1575.80" rx="70.27" ry="28.91" fill="#a9c8e0" transform="rotate(147.00 1209.80 1575.80)"/>
<ellipse cx="1209.80" cy="1575.80" rx="42.87" ry="17.64" fill="#4a97c7" transform="rotate(147.00 1209.80 1575.80)"/>
<ellipse cx="1209.80" cy="1575.80" rx="39.52" ry="19.17" fill="#f3a994" transform="rotate(127.03 1209.80 1575.80)"/>
<ellipse cx="1209.80" cy="1575.80" rx="24.12" ry="11.70" fill="#e4572e" transform="rotate(127.03 1209.80 1575.80)"/>
</g>
<g clip-path="url(#cb73)">
<ellipse cx="1371.60" cy="1575.80" rx="61.53" ry="2.17" fill="#a9c8e0" transform="rotate(132.62 1371.60 1575.80)"/>
<ellipse cx="1371.60" cy="1575.80" rx="37.54" ry="1.32" fill="#4a97c7" transform="rotate(132.62 1371.60 1575.80)"/>
<ellipse cx="1371.60" cy="1575.80" rx="47.30" ry="0.75" fill="#f3a994" transform="rotate(134.74 1371.60 1575.80)"/>
<ellipse cx="1371.60" cy="1575.80" rx="28.86" ry="0.46" fill="#e4572e" transform="rotate(134.74 1371.60 1575.80)"/>
</g>
<g clip-path="url(#cb04)">
<ellipse cx="239.20" cy="1741.40" rx="73.74" ry="50.00" fill="#a9c8e0" transform="rotate(135.49 239.20 1741.40)"/>
<ellipse cx="239.20" cy="1741.40" rx="44.99" ry="30.51" fill="#4a97c7" transform="rotate(135.49 239.20 1741.40)"/>
<ellipse cx="239.20" cy="1741.40" rx="56.80" ry="6.25" fill="#f3a994" transform="rotate(90.00 239.20 1741.40)"/>
<ellipse cx="239.20" cy="1741.40" rx="34.66" ry="3.81" fill="#e4572e" transform="rotate(90.00 239.20 1741.40)"/>
</g>
<g clip-path="url(#cb14)">
<ellipse cx="401.00" cy="1741.40" rx="64.51" ry="51.22" fill="#a9c8e0" transform="rotate(112.08 401.00 1741.40)"/>
<ellipse cx="401.00" cy="1741.40" rx="39.36" ry="31.25" fill="#4a97c7" transform="rotate(112.08 401.00 1741.40)"/>
<ellipse cx="401.00" cy="1741.40" rx="56.80" ry="6.10" fill="#f3a994" transform="rotate(90.00 401.00 1741.40)"/>
<ellipse cx="401.00" cy="1741.40" rx="34.66" ry="3.72" fill="#e4572e" transform="rotate(90.00 401.00 1741.40)"/>
</g>
<g clip-path="url(#cb24)">
<ellipse cx="563.00" cy="1741.40" rx="73.10" ry="62.22" fill="#a9c8e0" transform="rotate(12.84 563.00 1741.40)"/>
<ellipse cx="563.00" cy="1741.40" rx="44.60" ry="37.96" fill="#4a97c7" transform="rotate(12.84 563.00 1741.40)"/>
<ellipse cx="563.00" cy="1741.40" rx="56.82" ry="7.05" fill="#f3a994" transform="rotate(91.47 563.00 1741.40)"/>
<ellipse cx="563.00" cy="1741.40" rx="34.67" ry="4.30" fill="#e4572e" transform="rotate(91.47 563.00 1741.40)"/>
</g>
<g clip-path="url(#cb34)">
<ellipse cx="724.40" cy="1741.40" rx="63.88" ry="48.40" fill="#a9c8e0" transform="rotate(73.67 724.40 1741.40)"/>
<ellipse cx="724.40" cy="1741.40" rx="38.98" ry="29.53" fill="#4a97c7" transform="rotate(73.67 724.40 1741.40)"/>
<ellipse cx="724.40" cy="1741.40" rx="56.81" ry="5.62" fill="#f3a994" transform="rotate(89.01 724.40 1741.40)"/>
<ellipse cx="724.40" cy="1741.40" rx="34.66" ry="3.43" fill="#e4572e" transform="rotate(89.01 724.40 1741.40)"/>
</g>
<g clip-path="url(#cb44)">
<ellipse cx="886.30" cy="1741.40" rx="63.11" ry="60.08" fill="#a9c8e0" transform="rotate(108.79 886.30 1741.40)"/>
<ellipse cx="886.30" cy="1741.40" rx="38.50" ry="36.66" fill="#4a97c7" transform="rotate(108.79 886.30 1741.40)"/>
<ellipse cx="886.30" cy="1741.40" rx="56.94" ry="13.12" fill="#f3a994" transform="rotate(85.92 886.30 1741.40)"/>
<ellipse cx="886.30" cy="1741.40" rx="34.74" ry="8.01" fill="#e4572e" transform="rotate(85.92 886.30 1741.40)"/>
</g>
<g clip-path="url(#cb54)">
<ellipse cx="1048.10" cy="1741.40" rx="64.88" ry="48.75" fill="#a9c8e0" transform="rotate(112.38 1048.10 1741.40)"/>
<ellipse cx="1048.10" cy="1741.40" rx="39.59" ry="29.74" fill="#4a97c7" transform="rotate(112.38 1048.10 1741.40)"/>
<ellipse cx="1048.10" cy="1741.40" rx="58.11" ry="33.31" fill="#f3a994" transform="rotate(104.94 1048.10 1741.40)"/>
<ellipse cx="1048.10" cy="1741.40" rx="35.45" ry="20.32" fill="#e4572e" transform="rotate(104.94 1048.10 1741.40)"/>
</g>
<g clip-path="url(#cb64)">
<ellipse cx="1209.80" cy="1741.40" rx="64.21" ry="59.52" fill="#a9c8e0" transform="rotate(56.28 1209.80 1741.40)"/>
<ellipse cx="1209.80" cy="1741.40" rx="39.18" ry="36.31" fill="#4a97c7" transform="rotate(56.28 1209.80 1741.40)"/>
<ellipse cx="1209.80" cy="1741.40" rx="57.46" ry="26.94" fill="#f3a994" transform="rotate(80.15 1209.80 1741.40)"/>
<ellipse cx="1209.80" cy="1741.40" rx="35.06" ry="16.43" fill="#e4572e" transform="rotate(80.15 1209.80 1741.40)"/>
</g>
<g clip-path="url(#cb74)">
<ellipse cx="1371.60" cy="1741.40" rx="63.56" ry="40.53" fill="#a9c8e0" transform="rotate(78.43 1371.60 1741.40)"/>
<ellipse cx="1371.60" cy="1741.40" rx="38.78" ry="24.73" fill="#4a97c7" transform="rotate(78.43 1371.60 1741.40)"/>
<ellipse cx="1371.60" cy="1741.40" rx="56.95" ry="33.05" fill="#f3a994" transform="rotate(84.94 1371.60 1741.40)"/>
<ellipse cx="1371.60" cy="1741.40" rx="34.75" ry="20.16" fill="#e4572e" transform="rotate(84.94 1371.60 1741.40)"/>
</g>
<g clip-path="url(#cb84)">
<ellipse cx="1533.50" cy="1741.40" rx="63.47" ry="43.34" fill="#a9c8e0" transform="rotate(78.58 1533.50 1741.40)"/>
<ellipse cx="1533.50" cy="1741.40" rx="38.72" ry="26.44" fill="#4a97c7" transform="rotate(78.58 1533.50 1741.40)"/>
<ellipse cx="1533.50" cy="1741.40" rx="56.84" ry="32.84" fill="#f3a994" transform="rotate(87.51 1533.50 1741.40)"/>
<ellipse cx="1533.50" cy="1741.40" rx="34.68" ry="20.04" fill="#e4572e" transform="rotate(87.51 1533.50 1741.40)"/>
</g>
<path d="M165.52 1160.74v-4.8M165.52 994.9v4.8M182.14 1160.74v-4.8M182.14 994.9v4.8M198.76 1160.74v-4.8M198.76 994.9v4.8M215.38 1160.74v-4.8M215.38 994.9v4.8M232 1160.74v-9.4M232 994.9v9.4M248.62 1160.74v-4.8M248.62 994.9v4.8M265.24 1160.74v-4.8M265.24 994.9v4.8M281.86 1160.74v-4.8M281.86 994.9v4.8M298.48 1160.74v-4.8M298.48 994.9v4.8M315.1 1160.74v-9.4M315.1 994.9v9.4M158.6 1005.2h4.8M320.38 1005.2h-4.8M158.6 1015.6h4.8M320.38 1015.6h-4.8M158.6 1026h9.4M320.38 1026h-9.4M158.6 1036.4h4.8M320.38 1036.4h-4.8M158.6 1046.8h4.8M320.38 1046.8h-4.8M158.6 1057.2h4.8M320.38 1057.2h-4.8M158.6 1067.6h4.8M320.38 1067.6h-4.8M158.6 1078h9.4M320.38 1078h-9.4M158.6 1088.4h4.8M320.38 1088.4h-4.8M158.6 1098.8h4.8M320.38 1098.8h-4.8M158.6 1109.2h4.8M320.38 1109.2h-4.8M158.6 1119.6h4.8M320.38 1119.6h-4.8M158.6 1130h9.4M320.38 1130h-9.4M158.6 1140.4h4.8M320.38 1140.4h-4.8M158.6 1150.8h4.8M320.38 1150.8h-4.8M327.04 1160.74v-4.8M327.04 994.9v4.8M341.02 1160.74v-4.8M341.02 994.9v4.8M355 1160.74v-9.4M355 994.9v9.4M368.98 1160.74v-4.8M368.98 994.9v4.8M382.96 1160.74v-4.8M382.96 994.9v4.8M396.94 1160.74v-4.8M396.94 994.9v4.8M410.92 1160.74v-4.8M410.92 994.9v4.8M424.9 1160.74v-9.4M424.9 994.9v9.4M438.88 1160.74v-4.8M438.88 994.9v4.8M452.86 1160.74v-4.8M452.86 994.9v4.8M466.84 1160.74v-4.8M466.84 994.9v4.8M480.82 1160.74v-4.8M480.82 994.9v4.8M320.38 1005.2h4.8M482.16 1005.2h-4.8M320.38 1015.6h4.8M482.16 1015.6h-4.8M320.38 1026h9.4M482.16 1026h-9.4M320.38 1036.4h4.8M482.16 1036.4h-4.8M320.38 1046.8h4.8M482.16 1046.8h-4.8M320.38 1057.2h4.8M482.16 1057.2h-4.8M320.38 1067.6h4.8M482.16 1067.6h-4.8M320.38 1078h9.4M482.16 1078h-9.4M320.38 1088.4h4.8M482.16 1088.4h-4.8M320.38 1098.8h4.8M482.16 1098.8h-4.8M320.38 1109.2h4.8M482.16 1109.2h-4.8M320.38 1119.6h4.8M482.16 1119.6h-4.8M320.38 1130h9.4M482.16 1130h-9.4M320.38 1140.4h4.8M482.16 1140.4h-4.8M320.38 1150.8h4.8M482.16 1150.8h-4.8M489.5 1160.74v-9.4M489.5 994.9v9.4M509.66 1160.74v-4.8M509.66 994.9v4.8M529.82 1160.74v-4.8M529.82 994.9v4.8M549.98 1160.74v-4.8M549.98 994.9v4.8M570.14 1160.74v-4.8M570.14 994.9v4.8M590.3 1160.74v-9.4M590.3 994.9v9.4M610.46 1160.74v-4.8M610.46 994.9v4.8M630.62 1160.74v-4.8M630.62 994.9v4.8M482.16 1005.2h4.8M643.94 1005.2h-4.8M482.16 1015.6h4.8M643.94 1015.6h-4.8M482.16 1026h9.4M643.94 1026h-9.4M482.16 1036.4h4.8M643.94 1036.4h-4.8M482.16 1046.8h4.8M643.94 1046.8h-4.8M482.16 1057.2h4.8M643.94 1057.2h-4.8M482.16 1067.6h4.8M643.94 1067.6h-4.8M482.16 1078h9.4M643.94 1078h-9.4M482.16 1088.4h4.8M643.94 1088.4h-4.8M482.16 1098.8h4.8M643.94 1098.8h-4.8M482.16 1109.2h4.8M643.94 1109.2h-4.8M482.16 1119.6h4.8M643.94 1119.6h-4.8M482.16 1130h9.4M643.94 1130h-9.4M482.16 1140.4h4.8M643.94 1140.4h-4.8M482.16 1150.8h4.8M643.94 1150.8h-4.8M659.9 1160.74v-9.4M659.9 994.9v9.4M687.22 1160.74v-4.8M687.22 994.9v4.8M714.54 1160.74v-4.8M714.54 994.9v4.8M741.86 1160.74v-4.8M741.86 994.9v4.8M769.18 1160.74v-4.8M769.18 994.9v4.8M796.5 1160.74v-9.4M796.5 994.9v9.4M643.94 1005.2h4.8M805.72 1005.2h-4.8M643.94 1015.6h4.8M805.72 1015.6h-4.8M643.94 1026h9.4M805.72 1026h-9.4M643.94 1036.4h4.8M805.72 1036.4h-4.8M643.94 1046.8h4.8M805.72 1046.8h-4.8M643.94 1057.2h4.8M805.72 1057.2h-4.8M643.94 1067.6h4.8M805.72 1067.6h-4.8M643.94 1078h9.4M805.72 1078h-9.4M643.94 1088.4h4.8M805.72 1088.4h-4.8M643.94 1098.8h4.8M805.72 1098.8h-4.8M643.94 1109.2h4.8M805.72 1109.2h-4.8M643.94 1119.6h4.8M805.72 1119.6h-4.8M643.94 1130h9.4M805.72 1130h-9.4M643.94 1140.4h4.8M805.72 1140.4h-4.8M643.94 1150.8h4.8M805.72 1150.8h-4.8M815.74 1160.74v-4.8M815.74 994.9v4.8M831.16 1160.74v-4.8M831.16 994.9v4.8M846.58 1160.74v-4.8M846.58 994.9v4.8M862 1160.74v-9.4M862 994.9v9.4M877.42 1160.74v-4.8M877.42 994.9v4.8M892.84 1160.74v-4.8M892.84 994.9v4.8M908.26 1160.74v-4.8M908.26 994.9v4.8M923.68 1160.74v-4.8M923.68 994.9v4.8M939.1 1160.74v-9.4M939.1 994.9v9.4M954.52 1160.74v-4.8M954.52 994.9v4.8M805.72 1005.2h4.8M967.5 1005.2h-4.8M805.72 1015.6h4.8M967.5 1015.6h-4.8M805.72 1026h9.4M967.5 1026h-9.4M805.72 1036.4h4.8M967.5 1036.4h-4.8M805.72 1046.8h4.8M967.5 1046.8h-4.8M805.72 1057.2h4.8M967.5 1057.2h-4.8M805.72 1067.6h4.8M967.5 1067.6h-4.8M805.72 1078h9.4M967.5 1078h-9.4M805.72 1088.4h4.8M967.5 1088.4h-4.8M805.72 1098.8h4.8M967.5 1098.8h-4.8M805.72 1109.2h4.8M967.5 1109.2h-4.8M805.72 1119.6h4.8M967.5 1119.6h-4.8M805.72 1130h9.4M967.5 1130h-9.4M805.72 1140.4h4.8M967.5 1140.4h-4.8M805.72 1150.8h4.8M967.5 1150.8h-4.8M165.52 1326.58v-4.8M165.52 1160.74v4.8M182.14 1326.58v-4.8M182.14 1160.74v4.8M198.76 1326.58v-4.8M198.76 1160.74v4.8M215.38 1326.58v-4.8M215.38 1160.74v4.8M232 1326.58v-9.4M232 1160.74v9.4M248.62 1326.58v-4.8M248.62 1160.74v4.8M265.24 1326.58v-4.8M265.24 1160.74v4.8M281.86 1326.58v-4.8M281.86 1160.74v4.8M298.48 1326.58v-4.8M298.48 1160.74v4.8M315.1 1326.58v-9.4M315.1 1160.74v9.4M158.6 1177.31h4.8M320.38 1177.31h-4.8M158.6 1193.9h4.8M320.38 1193.9h-4.8M158.6 1210.48h4.8M320.38 1210.48h-4.8M158.6 1227.07h4.8M320.38 1227.07h-4.8M158.6 1243.65h9.4M320.38 1243.65h-9.4M158.6 1260.23h4.8M320.38 1260.23h-4.8M158.6 1276.82h4.8M320.38 1276.82h-4.8M158.6 1293.4h4.8M320.38 1293.4h-4.8M158.6 1309.99h4.8M320.38 1309.99h-4.8M327.04 1326.58v-4.8M327.04 1160.74v4.8M341.02 1326.58v-4.8M341.02 1160.74v4.8M355 1326.58v-9.4M355 1160.74v9.4M368.98 1326.58v-4.8M368.98 1160.74v4.8M382.96 1326.58v-4.8M382.96 1160.74v4.8M396.94 1326.58v-4.8M396.94 1160.74v4.8M410.92 1326.58v-4.8M410.92 1160.74v4.8M424.9 1326.58v-9.4M424.9 1160.74v9.4M438.88 1326.58v-4.8M438.88 1160.74v4.8M452.86 1326.58v-4.8M452.86 1160.74v4.8M466.84 1326.58v-4.8M466.84 1160.74v4.8M480.82 1326.58v-4.8M480.82 1160.74v4.8M320.38 1177.31h4.8M482.16 1177.31h-4.8M320.38 1193.9h4.8M482.16 1193.9h-4.8M320.38 1210.48h4.8M482.16 1210.48h-4.8M320.38 1227.07h4.8M482.16 1227.07h-4.8M320.38 1243.65h9.4M482.16 1243.65h-9.4M320.38 1260.23h4.8M482.16 1260.23h-4.8M320.38 1276.82h4.8M482.16 1276.82h-4.8M320.38 1293.4h4.8M482.16 1293.4h-4.8M320.38 1309.99h4.8M482.16 1309.99h-4.8M489.5 1326.58v-9.4M489.5 1160.74v9.4M509.66 1326.58v-4.8M509.66 1160.74v4.8M529.82 1326.58v-4.8M529.82 1160.74v4.8M549.98 1326.58v-4.8M549.98 1160.74v4.8M570.14 1326.58v-4.8M570.14 1160.74v4.8M590.3 1326.58v-9.4M590.3 1160.74v9.4M610.46 1326.58v-4.8M610.46 1160.74v4.8M630.62 1326.58v-4.8M630.62 1160.74v4.8M482.16 1177.31h4.8M643.94 1177.31h-4.8M482.16 1193.9h4.8M643.94 1193.9h-4.8M482.16 1210.48h4.8M643.94 1210.48h-4.8M482.16 1227.07h4.8M643.94 1227.07h-4.8M482.16 1243.65h9.4M643.94 1243.65h-9.4M482.16 1260.23h4.8M643.94 1260.23h-4.8M482.16 1276.82h4.8M643.94 1276.82h-4.8M482.16 1293.4h4.8M643.94 1293.4h-4.8M482.16 1309.99h4.8M643.94 1309.99h-4.8M659.9 1326.58v-9.4M659.9 1160.74v9.4M687.22 1326.58v-4.8M687.22 1160.74v4.8M714.54 1326.58v-4.8M714.54 1160.74v4.8M741.86 1326.58v-4.8M741.86 1160.74v4.8M769.18 1326.58v-4.8M769.18 1160.74v4.8M796.5 1326.58v-9.4M796.5 1160.74v9.4M643.94 1177.31h4.8M805.72 1177.31h-4.8M643.94 1193.9h4.8M805.72 1193.9h-4.8M643.94 1210.48h4.8M805.72 1210.48h-4.8M643.94 1227.07h4.8M805.72 1227.07h-4.8M643.94 1243.65h9.4M805.72 1243.65h-9.4M643.94 1260.23h4.8M805.72 1260.23h-4.8M643.94 1276.82h4.8M805.72 1276.82h-4.8M643.94 1293.4h4.8M805.72 1293.4h-4.8M643.94 1309.99h4.8M805.72 1309.99h-4.8M815.74 1326.58v-4.8M815.74 1160.74v4.8M831.16 1326.58v-4.8M831.16 1160.74v4.8M846.58 1326.58v-4.8M846.58 1160.74v4.8M862 1326.58v-9.4M862 1160.74v9.4M877.42 1326.58v-4.8M877.42 1160.74v4.8M892.84 1326.58v-4.8M892.84 1160.74v4.8M908.26 1326.58v-4.8M908.26 1160.74v4.8M923.68 1326.58v-4.8M923.68 1160.74v4.8M939.1 1326.58v-9.4M939.1 1160.74v9.4M954.52 1326.58v-4.8M954.52 1160.74v4.8M805.72 1177.31h4.8M967.5 1177.31h-4.8M805.72 1193.9h4.8M967.5 1193.9h-4.8M805.72 1210.48h4.8M967.5 1210.48h-4.8M805.72 1227.07h4.8M967.5 1227.07h-4.8M805.72 1243.65h9.4M967.5 1243.65h-9.4M805.72 1260.23h4.8M967.5 1260.23h-4.8M805.72 1276.82h4.8M967.5 1276.82h-4.8M805.72 1293.4h4.8M967.5 1293.4h-4.8M805.72 1309.99h4.8M967.5 1309.99h-4.8M977.99 1326.58v-4.8M977.99 1160.74v4.8M988.02 1326.58v-4.8M988.02 1160.74v4.8M998.05 1326.58v-9.4M998.05 1160.74v9.4M1008.08 1326.58v-4.8M1008.08 1160.74v4.8M1018.11 1326.58v-4.8M1018.11 1160.74v4.8M1028.14 1326.58v-4.8M1028.14 1160.74v4.8M1038.17 1326.58v-4.8M1038.17 1160.74v4.8M1048.2 1326.58v-9.4M1048.2 1160.74v9.4M1058.23 1326.58v-4.8M1058.23 1160.74v4.8M1068.26 1326.58v-4.8M1068.26 1160.74v4.8M1078.29 1326.58v-4.8M1078.29 1160.74v4.8M1088.32 1326.58v-4.8M1088.32 1160.74v4.8M1098.35 1326.58v-9.4M1098.35 1160.74v9.4M1108.38 1326.58v-4.8M1108.38 1160.74v4.8M1118.41 1326.58v-4.8M1118.41 1160.74v4.8M1128.44 1326.58v-4.8M1128.44 1160.74v4.8M967.5 1177.31h4.8M1129.28 1177.31h-4.8M967.5 1193.9h4.8M1129.28 1193.9h-4.8M967.5 1210.48h4.8M1129.28 1210.48h-4.8M967.5 1227.07h4.8M1129.28 1227.07h-4.8M967.5 1243.65h9.4M1129.28 1243.65h-9.4M967.5 1260.23h4.8M1129.28 1260.23h-4.8M967.5 1276.82h4.8M1129.28 1276.82h-4.8M967.5 1293.4h4.8M1129.28 1293.4h-4.8M967.5 1309.99h4.8M1129.28 1309.99h-4.8M165.52 1492.42v-4.8M165.52 1326.58v4.8M182.14 1492.42v-4.8M182.14 1326.58v4.8M198.76 1492.42v-4.8M198.76 1326.58v4.8M215.38 1492.42v-4.8M215.38 1326.58v4.8M232 1492.42v-9.4M232 1326.58v9.4M248.62 1492.42v-4.8M248.62 1326.58v4.8M265.24 1492.42v-4.8M265.24 1326.58v4.8M281.86 1492.42v-4.8M281.86 1326.58v4.8M298.48 1492.42v-4.8M298.48 1326.58v4.8M315.1 1492.42v-9.4M315.1 1326.58v9.4M158.6 1329.36h4.8M320.38 1329.36h-4.8M158.6 1349.6h9.4M320.38 1349.6h-9.4M158.6 1369.84h4.8M320.38 1369.84h-4.8M158.6 1390.08h4.8M320.38 1390.08h-4.8M158.6 1410.32h4.8M320.38 1410.32h-4.8M158.6 1430.56h4.8M320.38 1430.56h-4.8M158.6 1450.8h9.4M320.38 1450.8h-9.4M158.6 1471.04h4.8M320.38 1471.04h-4.8M158.6 1491.28h4.8M320.38 1491.28h-4.8M327.04 1492.42v-4.8M327.04 1326.58v4.8M341.02 1492.42v-4.8M341.02 1326.58v4.8M355 1492.42v-9.4M355 1326.58v9.4M368.98 1492.42v-4.8M368.98 1326.58v4.8M382.96 1492.42v-4.8M382.96 1326.58v4.8M396.94 1492.42v-4.8M396.94 1326.58v4.8M410.92 1492.42v-4.8M410.92 1326.58v4.8M424.9 1492.42v-9.4M424.9 1326.58v9.4M438.88 1492.42v-4.8M438.88 1326.58v4.8M452.86 1492.42v-4.8M452.86 1326.58v4.8M466.84 1492.42v-4.8M466.84 1326.58v4.8M480.82 1492.42v-4.8M480.82 1326.58v4.8M320.38 1329.36h4.8M482.16 1329.36h-4.8M320.38 1349.6h9.4M482.16 1349.6h-9.4M320.38 1369.84h4.8M482.16 1369.84h-4.8M320.38 1390.08h4.8M482.16 1390.08h-4.8M320.38 1410.32h4.8M482.16 1410.32h-4.8M320.38 1430.56h4.8M482.16 1430.56h-4.8M320.38 1450.8h9.4M482.16 1450.8h-9.4M320.38 1471.04h4.8M482.16 1471.04h-4.8M320.38 1491.28h4.8M482.16 1491.28h-4.8M489.5 1492.42v-9.4M489.5 1326.58v9.4M509.66 1492.42v-4.8M509.66 1326.58v4.8M529.82 1492.42v-4.8M529.82 1326.58v4.8M549.98 1492.42v-4.8M549.98 1326.58v4.8M570.14 1492.42v-4.8M570.14 1326.58v4.8M590.3 1492.42v-9.4M590.3 1326.58v9.4M610.46 1492.42v-4.8M610.46 1326.58v4.8M630.62 1492.42v-4.8M630.62 1326.58v4.8M482.16 1329.36h4.8M643.94 1329.36h-4.8M482.16 1349.6h9.4M643.94 1349.6h-9.4M482.16 1369.84h4.8M643.94 1369.84h-4.8M482.16 1390.08h4.8M643.94 1390.08h-4.8M482.16 1410.32h4.8M643.94 1410.32h-4.8M482.16 1430.56h4.8M643.94 1430.56h-4.8M482.16 1450.8h9.4M643.94 1450.8h-9.4M482.16 1471.04h4.8M643.94 1471.04h-4.8M482.16 1491.28h4.8M643.94 1491.28h-4.8M659.9 1492.42v-9.4M659.9 1326.58v9.4M687.22 1492.42v-4.8M687.22 1326.58v4.8M714.54 1492.42v-4.8M714.54 1326.58v4.8M741.86 1492.42v-4.8M741.86 1326.58v4.8M769.18 1492.42v-4.8M769.18 1326.58v4.8M796.5 1492.42v-9.4M796.5 1326.58v9.4M643.94 1329.36h4.8M805.72 1329.36h-4.8M643.94 1349.6h9.4M805.72 1349.6h-9.4M643.94 1369.84h4.8M805.72 1369.84h-4.8M643.94 1390.08h4.8M805.72 1390.08h-4.8M643.94 1410.32h4.8M805.72 1410.32h-4.8M643.94 1430.56h4.8M805.72 1430.56h-4.8M643.94 1450.8h9.4M805.72 1450.8h-9.4M643.94 1471.04h4.8M805.72 1471.04h-4.8M643.94 1491.28h4.8M805.72 1491.28h-4.8M815.74 1492.42v-4.8M815.74 1326.58v4.8M831.16 1492.42v-4.8M831.16 1326.58v4.8M846.58 1492.42v-4.8M846.58 1326.58v4.8M862 1492.42v-9.4M862 1326.58v9.4M877.42 1492.42v-4.8M877.42 1326.58v4.8M892.84 1492.42v-4.8M892.84 1326.58v4.8M908.26 1492.42v-4.8M908.26 1326.58v4.8M923.68 1492.42v-4.8M923.68 1326.58v4.8M939.1 1492.42v-9.4M939.1 1326.58v9.4M954.52 1492.42v-4.8M954.52 1326.58v4.8M805.72 1329.36h4.8M967.5 1329.36h-4.8M805.72 1349.6h9.4M967.5 1349.6h-9.4M805.72 1369.84h4.8M967.5 1369.84h-4.8M805.72 1390.08h4.8M967.5 1390.08h-4.8M805.72 1410.32h4.8M967.5 1410.32h-4.8M805.72 1430.56h4.8M967.5 1430.56h-4.8M805.72 1450.8h9.4M967.5 1450.8h-9.4M805.72 1471.04h4.8M967.5 1471.04h-4.8M805.72 1491.28h4.8M967.5 1491.28h-4.8M977.99 1492.42v-4.8M977.99 1326.58v4.8M988.02 1492.42v-4.8M988.02 1326.58v4.8M998.05 1492.42v-9.4M998.05 1326.58v9.4M1008.08 1492.42v-4.8M1008.08 1326.58v4.8M1018.11 1492.42v-4.8M1018.11 1326.58v4.8M1028.14 1492.42v-4.8M1028.14 1326.58v4.8M1038.17 1492.42v-4.8M1038.17 1326.58v4.8M1048.2 1492.42v-9.4M1048.2 1326.58v9.4M1058.23 1492.42v-4.8M1058.23 1326.58v4.8M1068.26 1492.42v-4.8M1068.26 1326.58v4.8M1078.29 1492.42v-4.8M1078.29 1326.58v4.8M1088.32 1492.42v-4.8M1088.32 1326.58v4.8M1098.35 1492.42v-9.4M1098.35 1326.58v9.4M1108.38 1492.42v-4.8M1108.38 1326.58v4.8M1118.41 1492.42v-4.8M1118.41 1326.58v4.8M1128.44 1492.42v-4.8M1128.44 1326.58v4.8M967.5 1329.36h4.8M1129.28 1329.36h-4.8M967.5 1349.6h9.4M1129.28 1349.6h-9.4M967.5 1369.84h4.8M1129.28 1369.84h-4.8M967.5 1390.08h4.8M1129.28 1390.08h-4.8M967.5 1410.32h4.8M1129.28 1410.32h-4.8M967.5 1430.56h4.8M1129.28 1430.56h-4.8M967.5 1450.8h9.4M1129.28 1450.8h-9.4M967.5 1471.04h4.8M1129.28 1471.04h-4.8M967.5 1491.28h4.8M1129.28 1491.28h-4.8M1145.16 1492.42v-4.8M1145.16 1326.58v4.8M1161.32 1492.42v-4.8M1161.32 1326.58v4.8M1177.48 1492.42v-4.8M1177.48 1326.58v4.8M1193.64 1492.42v-4.8M1193.64 1326.58v4.8M1209.8 1492.42v-9.4M1209.8 1326.58v9.4M1225.96 1492.42v-4.8M1225.96 1326.58v4.8M1242.12 1492.42v-4.8M1242.12 1326.58v4.8M1258.28 1492.42v-4.8M1258.28 1326.58v4.8M1274.44 1492.42v-4.8M1274.44 1326.58v4.8M1129.28 1329.36h4.8M1291.06 1329.36h-4.8M1129.28 1349.6h9.4M1291.06 1349.6h-9.4M1129.28 1369.84h4.8M1291.06 1369.84h-4.8M1129.28 1390.08h4.8M1291.06 1390.08h-4.8M1129.28 1410.32h4.8M1291.06 1410.32h-4.8M1129.28 1430.56h4.8M1291.06 1430.56h-4.8M1129.28 1450.8h9.4M1291.06 1450.8h-9.4M1129.28 1471.04h4.8M1291.06 1471.04h-4.8M1129.28 1491.28h4.8M1291.06 1491.28h-4.8M165.52 1658.26v-4.8M165.52 1492.42v4.8M182.14 1658.26v-4.8M182.14 1492.42v4.8M198.76 1658.26v-4.8M198.76 1492.42v4.8M215.38 1658.26v-4.8M215.38 1492.42v4.8M232 1658.26v-9.4M232 1492.42v9.4M248.62 1658.26v-4.8M248.62 1492.42v4.8M265.24 1658.26v-4.8M265.24 1492.42v4.8M281.86 1658.26v-4.8M281.86 1492.42v4.8M298.48 1658.26v-4.8M298.48 1492.42v4.8M315.1 1658.26v-9.4M315.1 1492.42v9.4M158.6 1500.48h4.8M320.38 1500.48h-4.8M158.6 1517.14h4.8M320.38 1517.14h-4.8M158.6 1533.8h9.4M320.38 1533.8h-9.4M158.6 1550.46h4.8M320.38 1550.46h-4.8M158.6 1567.12h4.8M320.38 1567.12h-4.8M158.6 1583.78h4.8M320.38 1583.78h-4.8M158.6 1600.44h4.8M320.38 1600.44h-4.8M158.6 1617.1h9.4M320.38 1617.1h-9.4M158.6 1633.76h4.8M320.38 1633.76h-4.8M158.6 1650.42h4.8M320.38 1650.42h-4.8M327.04 1658.26v-4.8M327.04 1492.42v4.8M341.02 1658.26v-4.8M341.02 1492.42v4.8M355 1658.26v-9.4M355 1492.42v9.4M368.98 1658.26v-4.8M368.98 1492.42v4.8M382.96 1658.26v-4.8M382.96 1492.42v4.8M396.94 1658.26v-4.8M396.94 1492.42v4.8M410.92 1658.26v-4.8M410.92 1492.42v4.8M424.9 1658.26v-9.4M424.9 1492.42v9.4M438.88 1658.26v-4.8M438.88 1492.42v4.8M452.86 1658.26v-4.8M452.86 1492.42v4.8M466.84 1658.26v-4.8M466.84 1492.42v4.8M480.82 1658.26v-4.8M480.82 1492.42v4.8M320.38 1500.48h4.8M482.16 1500.48h-4.8M320.38 1517.14h4.8M482.16 1517.14h-4.8M320.38 1533.8h9.4M482.16 1533.8h-9.4M320.38 1550.46h4.8M482.16 1550.46h-4.8M320.38 1567.12h4.8M482.16 1567.12h-4.8M320.38 1583.78h4.8M482.16 1583.78h-4.8M320.38 1600.44h4.8M482.16 1600.44h-4.8M320.38 1617.1h9.4M482.16 1617.1h-9.4M320.38 1633.76h4.8M482.16 1633.76h-4.8M320.38 1650.42h4.8M482.16 1650.42h-4.8M489.5 1658.26v-9.4M489.5 1492.42v9.4M509.66 1658.26v-4.8M509.66 1492.42v4.8M529.82 1658.26v-4.8M529.82 1492.42v4.8M549.98 1658.26v-4.8M549.98 1492.42v4.8M570.14 1658.26v-4.8M570.14 1492.42v4.8M590.3 1658.26v-9.4M590.3 1492.42v9.4M610.46 1658.26v-4.8M610.46 1492.42v4.8M630.62 1658.26v-4.8M630.62 1492.42v4.8M482.16 1500.48h4.8M643.94 1500.48h-4.8M482.16 1517.14h4.8M643.94 1517.14h-4.8M482.16 1533.8h9.4M643.94 1533.8h-9.4M482.16 1550.46h4.8M643.94 1550.46h-4.8M482.16 1567.12h4.8M643.94 1567.12h-4.8M482.16 1583.78h4.8M643.94 1583.78h-4.8M482.16 1600.44h4.8M643.94 1600.44h-4.8M482.16 1617.1h9.4M643.94 1617.1h-9.4M482.16 1633.76h4.8M643.94 1633.76h-4.8M482.16 1650.42h4.8M643.94 1650.42h-4.8M659.9 1658.26v-9.4M659.9 1492.42v9.4M687.22 1658.26v-4.8M687.22 1492.42v4.8M714.54 1658.26v-4.8M714.54 1492.42v4.8M741.86 1658.26v-4.8M741.86 1492.42v4.8M769.18 1658.26v-4.8M769.18 1492.42v4.8M796.5 1658.26v-9.4M796.5 1492.42v9.4M643.94 1500.48h4.8M805.72 1500.48h-4.8M643.94 1517.14h4.8M805.72 1517.14h-4.8M643.94 1533.8h9.4M805.72 1533.8h-9.4M643.94 1550.46h4.8M805.72 1550.46h-4.8M643.94 1567.12h4.8M805.72 1567.12h-4.8M643.94 1583.78h4.8M805.72 1583.78h-4.8M643.94 1600.44h4.8M805.72 1600.44h-4.8M643.94 1617.1h9.4M805.72 1617.1h-9.4M643.94 1633.76h4.8M805.72 1633.76h-4.8M643.94 1650.42h4.8M805.72 1650.42h-4.8M815.74 1658.26v-4.8M815.74 1492.42v4.8M831.16 1658.26v-4.8M831.16 1492.42v4.8M846.58 1658.26v-4.8M846.58 1492.42v4.8M862 1658.26v-9.4M862 1492.42v9.4M877.42 1658.26v-4.8M877.42 1492.42v4.8M892.84 1658.26v-4.8M892.84 1492.42v4.8M908.26 1658.26v-4.8M908.26 1492.42v4.8M923.68 1658.26v-4.8M923.68 1492.42v4.8M939.1 1658.26v-9.4M939.1 1492.42v9.4M954.52 1658.26v-4.8M954.52 1492.42v4.8M805.72 1500.48h4.8M967.5 1500.48h-4.8M805.72 1517.14h4.8M967.5 1517.14h-4.8M805.72 1533.8h9.4M967.5 1533.8h-9.4M805.72 1550.46h4.8M967.5 1550.46h-4.8M805.72 1567.12h4.8M967.5 1567.12h-4.8M805.72 1583.78h4.8M967.5 1583.78h-4.8M805.72 1600.44h4.8M967.5 1600.44h-4.8M805.72 1617.1h9.4M967.5 1617.1h-9.4M805.72 1633.76h4.8M967.5 1633.76h-4.8M805.72 1650.42h4.8M967.5 1650.42h-4.8M977.99 1658.26v-4.8M977.99 1492.42v4.8M988.02 1658.26v-4.8M988.02 1492.42v4.8M998.05 1658.26v-9.4M998.05 1492.42v9.4M1008.08 1658.26v-4.8M1008.08 1492.42v4.8M1018.11 1658.26v-4.8M1018.11 1492.42v4.8M1028.14 1658.26v-4.8M1028.14 1492.42v4.8M1038.17 1658.26v-4.8M1038.17 1492.42v4.8M1048.2 1658.26v-9.4M1048.2 1492.42v9.4M1058.23 1658.26v-4.8M1058.23 1492.42v4.8M1068.26 1658.26v-4.8M1068.26 1492.42v4.8M1078.29 1658.26v-4.8M1078.29 1492.42v4.8M1088.32 1658.26v-4.8M1088.32 1492.42v4.8M1098.35 1658.26v-9.4M1098.35 1492.42v9.4M1108.38 1658.26v-4.8M1108.38 1492.42v4.8M1118.41 1658.26v-4.8M1118.41 1492.42v4.8M1128.44 1658.26v-4.8M1128.44 1492.42v4.8M967.5 1500.48h4.8M1129.28 1500.48h-4.8M967.5 1517.14h4.8M1129.28 1517.14h-4.8M967.5 1533.8h9.4M1129.28 1533.8h-9.4M967.5 1550.46h4.8M1129.28 1550.46h-4.8M967.5 1567.12h4.8M1129.28 1567.12h-4.8M967.5 1583.78h4.8M1129.28 1583.78h-4.8M967.5 1600.44h4.8M1129.28 1600.44h-4.8M967.5 1617.1h9.4M1129.28 1617.1h-9.4M967.5 1633.76h4.8M1129.28 1633.76h-4.8M967.5 1650.42h4.8M1129.28 1650.42h-4.8M1145.16 1658.26v-4.8M1145.16 1492.42v4.8M1161.32 1658.26v-4.8M1161.32 1492.42v4.8M1177.48 1658.26v-4.8M1177.48 1492.42v4.8M1193.64 1658.26v-4.8M1193.64 1492.42v4.8M1209.8 1658.26v-9.4M1209.8 1492.42v9.4M1225.96 1658.26v-4.8M1225.96 1492.42v4.8M1242.12 1658.26v-4.8M1242.12 1492.42v4.8M1258.28 1658.26v-4.8M1258.28 1492.42v4.8M1274.44 1658.26v-4.8M1274.44 1492.42v4.8M1129.28 1500.48h4.8M1291.06 1500.48h-4.8M1129.28 1517.14h4.8M1291.06 1517.14h-4.8M1129.28 1533.8h9.4M1291.06 1533.8h-9.4M1129.28 1550.46h4.8M1291.06 1550.46h-4.8M1129.28 1567.12h4.8M1291.06 1567.12h-4.8M1129.28 1583.78h4.8M1291.06 1583.78h-4.8M1129.28 1600.44h4.8M1291.06 1600.44h-4.8M1129.28 1617.1h9.4M1291.06 1617.1h-9.4M1129.28 1633.76h4.8M1291.06 1633.76h-4.8M1129.28 1650.42h4.8M1291.06 1650.42h-4.8M1311.28 1658.26v-4.8M1311.28 1492.42v4.8M1331.1 1658.26v-9.4M1331.1 1492.42v9.4M1350.92 1658.26v-4.8M1350.92 1492.42v4.8M1370.74 1658.26v-4.8M1370.74 1492.42v4.8M1390.56 1658.26v-4.8M1390.56 1492.42v4.8M1410.38 1658.26v-4.8M1410.38 1492.42v4.8M1430.2 1658.26v-9.4M1430.2 1492.42v9.4M1450.02 1658.26v-4.8M1450.02 1492.42v4.8M1291.06 1500.48h4.8M1452.84 1500.48h-4.8M1291.06 1517.14h4.8M1452.84 1517.14h-4.8M1291.06 1533.8h9.4M1452.84 1533.8h-9.4M1291.06 1550.46h4.8M1452.84 1550.46h-4.8M1291.06 1567.12h4.8M1452.84 1567.12h-4.8M1291.06 1583.78h4.8M1452.84 1583.78h-4.8M1291.06 1600.44h4.8M1452.84 1600.44h-4.8M1291.06 1617.1h9.4M1452.84 1617.1h-9.4M1291.06 1633.76h4.8M1452.84 1633.76h-4.8M1291.06 1650.42h4.8M1452.84 1650.42h-4.8M165.52 1824.1v-4.8M165.52 1658.26v4.8M182.14 1824.1v-4.8M182.14 1658.26v4.8M198.76 1824.1v-4.8M198.76 1658.26v4.8M215.38 1824.1v-4.8M215.38 1658.26v4.8M232 1824.1v-9.4M232 1658.26v9.4M248.62 1824.1v-4.8M248.62 1658.26v4.8M265.24 1824.1v-4.8M265.24 1658.26v4.8M281.86 1824.1v-4.8M281.86 1658.26v4.8M298.48 1824.1v-4.8M298.48 1658.26v4.8M315.1 1824.1v-9.4M315.1 1658.26v9.4M158.6 1663.18h4.8M320.38 1663.18h-4.8M158.6 1676.2h9.4M320.38 1676.2h-9.4M158.6 1689.22h4.8M320.38 1689.22h-4.8M158.6 1702.24h4.8M320.38 1702.24h-4.8M158.6 1715.26h4.8M320.38 1715.26h-4.8M158.6 1728.28h4.8M320.38 1728.28h-4.8M158.6 1741.3h9.4M320.38 1741.3h-9.4M158.6 1754.32h4.8M320.38 1754.32h-4.8M158.6 1767.34h4.8M320.38 1767.34h-4.8M158.6 1780.36h4.8M320.38 1780.36h-4.8M158.6 1793.38h4.8M320.38 1793.38h-4.8M158.6 1806.4h9.4M320.38 1806.4h-9.4M158.6 1819.42h4.8M320.38 1819.42h-4.8M327.04 1824.1v-4.8M327.04 1658.26v4.8M341.02 1824.1v-4.8M341.02 1658.26v4.8M355 1824.1v-9.4M355 1658.26v9.4M368.98 1824.1v-4.8M368.98 1658.26v4.8M382.96 1824.1v-4.8M382.96 1658.26v4.8M396.94 1824.1v-4.8M396.94 1658.26v4.8M410.92 1824.1v-4.8M410.92 1658.26v4.8M424.9 1824.1v-9.4M424.9 1658.26v9.4M438.88 1824.1v-4.8M438.88 1658.26v4.8M452.86 1824.1v-4.8M452.86 1658.26v4.8M466.84 1824.1v-4.8M466.84 1658.26v4.8M480.82 1824.1v-4.8M480.82 1658.26v4.8M320.38 1663.18h4.8M482.16 1663.18h-4.8M320.38 1676.2h9.4M482.16 1676.2h-9.4M320.38 1689.22h4.8M482.16 1689.22h-4.8M320.38 1702.24h4.8M482.16 1702.24h-4.8M320.38 1715.26h4.8M482.16 1715.26h-4.8M320.38 1728.28h4.8M482.16 1728.28h-4.8M320.38 1741.3h9.4M482.16 1741.3h-9.4M320.38 1754.32h4.8M482.16 1754.32h-4.8M320.38 1767.34h4.8M482.16 1767.34h-4.8M320.38 1780.36h4.8M482.16 1780.36h-4.8M320.38 1793.38h4.8M482.16 1793.38h-4.8M320.38 1806.4h9.4M482.16 1806.4h-9.4M320.38 1819.42h4.8M482.16 1819.42h-4.8M489.5 1824.1v-9.4M489.5 1658.26v9.4M509.66 1824.1v-4.8M509.66 1658.26v4.8M529.82 1824.1v-4.8M529.82 1658.26v4.8M549.98 1824.1v-4.8M549.98 1658.26v4.8M570.14 1824.1v-4.8M570.14 1658.26v4.8M590.3 1824.1v-9.4M590.3 1658.26v9.4M610.46 1824.1v-4.8M610.46 1658.26v4.8M630.62 1824.1v-4.8M630.62 1658.26v4.8M482.16 1663.18h4.8M643.94 1663.18h-4.8M482.16 1676.2h9.4M643.94 1676.2h-9.4M482.16 1689.22h4.8M643.94 1689.22h-4.8M482.16 1702.24h4.8M643.94 1702.24h-4.8M482.16 1715.26h4.8M643.94 1715.26h-4.8M482.16 1728.28h4.8M643.94 1728.28h-4.8M482.16 1741.3h9.4M643.94 1741.3h-9.4M482.16 1754.32h4.8M643.94 1754.32h-4.8M482.16 1767.34h4.8M643.94 1767.34h-4.8M482.16 1780.36h4.8M643.94 1780.36h-4.8M482.16 1793.38h4.8M643.94 1793.38h-4.8M482.16 1806.4h9.4M643.94 1806.4h-9.4M482.16 1819.42h4.8M643.94 1819.42h-4.8M659.9 1824.1v-9.4M659.9 1658.26v9.4M687.22 1824.1v-4.8M687.22 1658.26v4.8M714.54 1824.1v-4.8M714.54 1658.26v4.8M741.86 1824.1v-4.8M741.86 1658.26v4.8M769.18 1824.1v-4.8M769.18 1658.26v4.8M796.5 1824.1v-9.4M796.5 1658.26v9.4M643.94 1663.18h4.8M805.72 1663.18h-4.8M643.94 1676.2h9.4M805.72 1676.2h-9.4M643.94 1689.22h4.8M805.72 1689.22h-4.8M643.94 1702.24h4.8M805.72 1702.24h-4.8M643.94 1715.26h4.8M805.72 1715.26h-4.8M643.94 1728.28h4.8M805.72 1728.28h-4.8M643.94 1741.3h9.4M805.72 1741.3h-9.4M643.94 1754.32h4.8M805.72 1754.32h-4.8M643.94 1767.34h4.8M805.72 1767.34h-4.8M643.94 1780.36h4.8M805.72 1780.36h-4.8M643.94 1793.38h4.8M805.72 1793.38h-4.8M643.94 1806.4h9.4M805.72 1806.4h-9.4M643.94 1819.42h4.8M805.72 1819.42h-4.8M815.74 1824.1v-4.8M815.74 1658.26v4.8M831.16 1824.1v-4.8M831.16 1658.26v4.8M846.58 1824.1v-4.8M846.58 1658.26v4.8M862 1824.1v-9.4M862 1658.26v9.4M877.42 1824.1v-4.8M877.42 1658.26v4.8M892.84 1824.1v-4.8M892.84 1658.26v4.8M908.26 1824.1v-4.8M908.26 1658.26v4.8M923.68 1824.1v-4.8M923.68 1658.26v4.8M939.1 1824.1v-9.4M939.1 1658.26v9.4M954.52 1824.1v-4.8M954.52 1658.26v4.8M805.72 1663.18h4.8M967.5 1663.18h-4.8M805.72 1676.2h9.4M967.5 1676.2h-9.4M805.72 1689.22h4.8M967.5 1689.22h-4.8M805.72 1702.24h4.8M967.5 1702.24h-4.8M805.72 1715.26h4.8M967.5 1715.26h-4.8M805.72 1728.28h4.8M967.5 1728.28h-4.8M805.72 1741.3h9.4M967.5 1741.3h-9.4M805.72 1754.32h4.8M967.5 1754.32h-4.8M805.72 1767.34h4.8M967.5 1767.34h-4.8M805.72 1780.36h4.8M967.5 1780.36h-4.8M805.72 1793.38h4.8M967.5 1793.38h-4.8M805.72 1806.4h9.4M967.5 1806.4h-9.4M805.72 1819.42h4.8M967.5 1819.42h-4.8M977.99 1824.1v-4.8M977.99 1658.26v4.8M988.02 1824.1v-4.8M988.02 1658.26v4.8M998.05 1824.1v-9.4M998.05 1658.26v9.4M1008.08 1824.1v-4.8M1008.08 1658.26v4.8M1018.11 1824.1v-4.8M1018.11 1658.26v4.8M1028.14 1824.1v-4.8M1028.14 1658.26v4.8M1038.17 1824.1v-4.8M1038.17 1658.26v4.8M1048.2 1824.1v-9.4M1048.2 1658.26v9.4M1058.23 1824.1v-4.8M1058.23 1658.26v4.8M1068.26 1824.1v-4.8M1068.26 1658.26v4.8M1078.29 1824.1v-4.8M1078.29 1658.26v4.8M1088.32 1824.1v-4.8M1088.32 1658.26v4.8M1098.35 1824.1v-9.4M1098.35 1658.26v9.4M1108.38 1824.1v-4.8M1108.38 1658.26v4.8M1118.41 1824.1v-4.8M1118.41 1658.26v4.8M1128.44 1824.1v-4.8M1128.44 1658.26v4.8M967.5 1663.18h4.8M1129.28 1663.18h-4.8M967.5 1676.2h9.4M1129.28 1676.2h-9.4M967.5 1689.22h4.8M1129.28 1689.22h-4.8M967.5 1702.24h4.8M1129.28 1702.24h-4.8M967.5 1715.26h4.8M1129.28 1715.26h-4.8M967.5 1728.28h4.8M1129.28 1728.28h-4.8M967.5 1741.3h9.4M1129.28 1741.3h-9.4M967.5 1754.32h4.8M1129.28 1754.32h-4.8M967.5 1767.34h4.8M1129.28 1767.34h-4.8M967.5 1780.36h4.8M1129.28 1780.36h-4.8M967.5 1793.38h4.8M1129.28 1793.38h-4.8M967.5 1806.4h9.4M1129.28 1806.4h-9.4M967.5 1819.42h4.8M1129.28 1819.42h-4.8M1145.16 1824.1v-4.8M1145.16 1658.26v4.8M1161.32 1824.1v-4.8M1161.32 1658.26v4.8M1177.48 1824.1v-4.8M1177.48 1658.26v4.8M1193.64 1824.1v-4.8M1193.64 1658.26v4.8M1209.8 1824.1v-9.4M1209.8 1658.26v9.4M1225.96 1824.1v-4.8M1225.96 1658.26v4.8M1242.12 1824.1v-4.8M1242.12 1658.26v4.8M1258.28 1824.1v-4.8M1258.28 1658.26v4.8M1274.44 1824.1v-4.8M1274.44 1658.26v4.8M1129.28 1663.18h4.8M1291.06 1663.18h-4.8M1129.28 1676.2h9.4M1291.06 1676.2h-9.4M1129.28 1689.22h4.8M1291.06 1689.22h-4.8M1129.28 1702.24h4.8M1291.06 1702.24h-4.8M1129.28 1715.26h4.8M1291.06 1715.26h-4.8M1129.28 1728.28h4.8M1291.06 1728.28h-4.8M1129.28 1741.3h9.4M1291.06 1741.3h-9.4M1129.28 1754.32h4.8M1291.06 1754.32h-4.8M1129.28 1767.34h4.8M1291.06 1767.34h-4.8M1129.28 1780.36h4.8M1291.06 1780.36h-4.8M1129.28 1793.38h4.8M1291.06 1793.38h-4.8M1129.28 1806.4h9.4M1291.06 1806.4h-9.4M1129.28 1819.42h4.8M1291.06 1819.42h-4.8M1311.28 1824.1v-4.8M1311.28 1658.26v4.8M1331.1 1824.1v-9.4M1331.1 1658.26v9.4M1350.92 1824.1v-4.8M1350.92 1658.26v4.8M1370.74 1824.1v-4.8M1370.74 1658.26v4.8M1390.56 1824.1v-4.8M1390.56 1658.26v4.8M1410.38 1824.1v-4.8M1410.38 1658.26v4.8M1430.2 1824.1v-9.4M1430.2 1658.26v9.4M1450.02 1824.1v-4.8M1450.02 1658.26v4.8M1291.06 1663.18h4.8M1452.84 1663.18h-4.8M1291.06 1676.2h9.4M1452.84 1676.2h-9.4M1291.06 1689.22h4.8M1452.84 1689.22h-4.8M1291.06 1702.24h4.8M1452.84 1702.24h-4.8M1291.06 1715.26h4.8M1452.84 1715.26h-4.8M1291.06 1728.28h4.8M1452.84 1728.28h-4.8M1291.06 1741.3h9.4M1452.84 1741.3h-9.4M1291.06 1754.32h4.8M1452.84 1754.32h-4.8M1291.06 1767.34h4.8M1452.84 1767.34h-4.8M1291.06 1780.36h4.8M1452.84 1780.36h-4.8M1291.06 1793.38h4.8M1452.84 1793.38h-4.8M1291.06 1806.4h9.4M1452.84 1806.4h-9.4M1291.06 1819.42h4.8M1452.84 1819.42h-4.8M1460.84 1824.1v-4.8M1460.84 1658.26v4.8M1477.02 1824.1v-4.8M1477.02 1658.26v4.8M1493.2 1824.1v-9.4M1493.2 1658.26v9.4M1509.38 1824.1v-4.8M1509.38 1658.26v4.8M1525.56 1824.1v-4.8M1525.56 1658.26v4.8M1541.74 1824.1v-4.8M1541.74 1658.26v4.8M1557.92 1824.1v-4.8M1557.92 1658.26v4.8M1574.1 1824.1v-9.4M1574.1 1658.26v9.4M1590.28 1824.1v-4.8M1590.28 1658.26v4.8M1606.46 1824.1v-4.8M1606.46 1658.26v4.8M1452.84 1663.18h4.8M1614.62 1663.18h-4.8M1452.84 1676.2h9.4M1614.62 1676.2h-9.4M1452.84 1689.22h4.8M1614.62 1689.22h-4.8M1452.84 1702.24h4.8M1614.62 1702.24h-4.8M1452.84 1715.26h4.8M1614.62 1715.26h-4.8M1452.84 1728.28h4.8M1614.62 1728.28h-4.8M1452.84 1741.3h9.4M1614.62 1741.3h-9.4M1452.84 1754.32h4.8M1614.62 1754.32h-4.8M1452.84 1767.34h4.8M1614.62 1767.34h-4.8M1452.84 1780.36h4.8M1614.62 1780.36h-4.8M1452.84 1793.38h4.8M1614.62 1793.38h-4.8M1452.84 1806.4h9.4M1614.62 1806.4h-9.4M1452.84 1819.42h4.8M1614.62 1819.42h-4.8" stroke="#000" stroke-width="1.55" fill="none"/>
<path d="M158.6 994.9H320.38V1160.74H158.6ZM320.38 994.9H482.16V1160.74H320.38ZM482.16 994.9H643.94V1160.74H482.16ZM643.94 994.9H805.72V1160.74H643.94ZM805.72 994.9H967.5V1160.74H805.72ZM158.6 1160.74H320.38V1326.58H158.6ZM320.38 1160.74H482.16V1326.58H320.38ZM482.16 1160.74H643.94V1326.58H482.16ZM643.94 1160.74H805.72V1326.58H643.94ZM805.72 1160.74H967.5V1326.58H805.72ZM967.5 1160.74H1129.28V1326.58H967.5ZM158.6 1326.58H320.38V1492.42H158.6ZM320.38 1326.58H482.16V1492.42H320.38ZM482.16 1326.58H643.94V1492.42H482.16ZM643.94 1326.58H805.72V1492.42H643.94ZM805.72 1326.58H967.5V1492.42H805.72ZM967.5 1326.58H1129.28V1492.42H967.5ZM1129.28 1326.58H1291.06V1492.42H1129.28ZM158.6 1492.42H320.38V1658.26H158.6ZM320.38 1492.42H482.16V1658.26H320.38ZM482.16 1492.42H643.94V1658.26H482.16ZM643.94 1492.42H805.72V1658.26H643.94ZM805.72 1492.42H967.5V1658.26H805.72ZM967.5 1492.42H1129.28V1658.26H967.5ZM1129.28 1492.42H1291.06V1658.26H1129.28ZM1291.06 1492.42H1452.84V1658.26H1291.06ZM158.6 1658.26H320.38V1824.1H158.6ZM320.38 1658.26H482.16V1824.1H320.38ZM482.16 1658.26H643.94V1824.1H482.16ZM643.94 1658.26H805.72V1824.1H643.94ZM805.72 1658.26H967.5V1824.1H805.72ZM967.5 1658.26H1129.28V1824.1H967.5ZM1129.28 1658.26H1291.06V1824.1H1129.28ZM1291.06 1658.26H1452.84V1824.1H1291.06ZM1452.84 1658.26H1614.62V1824.1H1452.84Z" stroke="#000" stroke-width="1.65" fill="none" stroke-linejoin="miter"/>
<text x="149.6" y="1036.5" font-size="31" text-anchor="end">-0.90</text>
<text x="149.6" y="1088.5" font-size="31" text-anchor="end">-1.00</text>
<text x="149.6" y="1140.5" font-size="31" text-anchor="end">-1.10</text>
<text x="149.6" y="1171.2" font-size="31" text-anchor="end">1.20</text>
<text x="149.6" y="1254.1" font-size="31" text-anchor="end">1.00</text>
<text x="149.6" y="1337.0" font-size="31" text-anchor="end">0.80</text>
<text x="149.6" y="1360.0" font-size="31" text-anchor="end">2.50</text>
<text x="149.6" y="1461.2" font-size="31" text-anchor="end">0.00</text>
<text x="149.6" y="1544.2" font-size="31" text-anchor="end">0.00</text>
<text x="149.6" y="1627.5" font-size="31" text-anchor="end">-2.00</text>
<text x="149.6" y="1686.8" font-size="31" text-anchor="end">-1.98</text>
<text x="149.6" y="1751.8" font-size="31" text-anchor="end">-2.00</text>
<text x="149.6" y="1816.9" font-size="31" text-anchor="end">-2.03</text>
<text font-size="31" text-anchor="end" transform="translate(227.5 1850.9) rotate(-30)">3.00</text>
<text font-size="31" text-anchor="end" transform="translate(310.6 1850.9) rotate(-30)">3.50</text>
<text font-size="31" text-anchor="end" transform="translate(350.5 1850.9) rotate(-30)">0.90</text>
<text font-size="31" text-anchor="end" transform="translate(420.4 1850.9) rotate(-30)">1.00</text>
<text font-size="31" text-anchor="end" transform="translate(485.0 1850.9) rotate(-30)">0.60</text>
<text font-size="31" text-anchor="end" transform="translate(585.8 1850.9) rotate(-30)">0.70</text>
<text font-size="31" text-anchor="end" transform="translate(655.4 1850.9) rotate(-30)">0.04</text>
<text font-size="31" text-anchor="end" transform="translate(792.0 1850.9) rotate(-30)">0.06</text>
<text font-size="31" text-anchor="end" transform="translate(857.5 1850.9) rotate(-30)">0.25</text>
<text font-size="31" text-anchor="end" transform="translate(934.6 1850.9) rotate(-30)">0.30</text>
<text font-size="31" text-anchor="end" transform="translate(993.5 1850.9) rotate(-30)">-1.10</text>
<text font-size="31" text-anchor="end" transform="translate(1043.7 1850.9) rotate(-30)">-1.00</text>
<text font-size="31" text-anchor="end" transform="translate(1093.8 1850.9) rotate(-30)">-0.90</text>
<text font-size="31" text-anchor="end" transform="translate(1124.6 1850.9) rotate(-30)">0.80</text>
<text font-size="31" text-anchor="end" transform="translate(1205.3 1850.9) rotate(-30)">1.00</text>
<text font-size="31" text-anchor="end" transform="translate(1286.1 1850.9) rotate(-30)">1.20</text>
<text font-size="31" text-anchor="end" transform="translate(1326.6 1850.9) rotate(-30)">0.00</text>
<text font-size="31" text-anchor="end" transform="translate(1425.7 1850.9) rotate(-30)">2.50</text>
<text font-size="31" text-anchor="end" transform="translate(1488.7 1850.9) rotate(-30)">-2.00</text>
<text font-size="31" text-anchor="end" transform="translate(1569.6 1850.9) rotate(-30)">0.00</text>
<text x="161.4" y="1945.2" font-size="37.2">ln<tspan dx="1.2">(</tspan><tspan dx="0.6">10</tspan><tspan font-size="27.2" dy="-12.6" dx="0.4">10</tspan><tspan dy="12.6" dx="-1.0" font-style="italic">A</tspan><tspan font-size="27.2" dy="6.0" dx="-0.8" font-style="italic">s</tspan><tspan dy="-6.0" dx="0.6">)</tspan></text>
<text x="401.3" y="1945.2" font-size="37.2" text-anchor="middle"><tspan font-style="italic">n</tspan><tspan font-size="27.2" dy="6.0" font-style="italic">s</tspan></text>
<text x="563.0" y="1945.2" font-size="37.2" text-anchor="middle"><tspan font-style="italic">h</tspan></text>
<text x="724.8" y="1945.2" font-size="37.2" text-anchor="middle"><tspan stroke="#000" stroke-width="0.55">Ω</tspan><tspan font-size="27.2" dy="6.0" font-style="italic">b</tspan></text>
<text x="886.6" y="1945.2" font-size="37.2" text-anchor="middle"><tspan stroke="#000" stroke-width="0.55">Ω</tspan><tspan font-size="27.2" dy="6.0" font-style="italic">c</tspan></text>
<text x="1048.4" y="1945.2" font-size="37.2" text-anchor="middle"><tspan font-style="italic">w</tspan><tspan font-size="27.2" dy="6.0" >0</tspan></text>
<text x="1210.2" y="1945.2" font-size="37.2" text-anchor="middle"><tspan font-style="italic">w</tspan><tspan font-size="27.2" dy="6.0" font-style="italic">a</tspan></text>
<text x="1346.2" y="1950.6" font-size="37.2"><tspan font-style="italic">c</tspan><tspan font-size="27.2" dx="-0.72" dy="10.4" font-style="italic">M</tspan><tspan font-size="30.7" dx="-22.02" dy="-29.4">(</tspan><tspan font-size="27.2" dy="-0.7" dx="-0.6">0</tspan><tspan font-size="30.7" dy="0.7">)</tspan></text>
<text x="1508.0" y="1950.6" font-size="37.2"><tspan font-style="italic">c</tspan><tspan font-size="27.2" dx="-0.72" dy="10.4" font-style="italic">M</tspan><tspan font-size="30.7" dx="-22.02" dy="-29.4">(</tspan><tspan font-size="27.2" dy="-0.7" dx="-0.6">1</tspan><tspan font-size="30.7" dy="0.7">)</tspan></text>
<text font-size="37.2" text-anchor="middle" transform="translate(47.6 1084.0) rotate(-90)"><tspan font-style="italic">w</tspan><tspan font-size="27.2" dy="6.0" >0</tspan></text>
<text font-size="37.2" text-anchor="middle" transform="translate(47.6 1249.9) rotate(-90)"><tspan font-style="italic">w</tspan><tspan font-size="27.2" dy="6.0" font-style="italic">a</tspan></text>
<text font-size="37.2" transform="translate(40.0 1445.7) rotate(-90)"><tspan font-style="italic">c</tspan><tspan font-size="27.2" dx="-0.72" dy="10.4" font-style="italic">M</tspan><tspan font-size="30.7" dx="-22.02" dy="-29.4">(</tspan><tspan font-size="27.2" dy="-0.7" dx="-0.6">0</tspan><tspan font-size="30.7" dy="0.7">)</tspan></text>
<text font-size="37.2" transform="translate(40.0 1611.5) rotate(-90)"><tspan font-style="italic">c</tspan><tspan font-size="27.2" dx="-0.72" dy="10.4" font-style="italic">M</tspan><tspan font-size="30.7" dx="-22.02" dy="-29.4">(</tspan><tspan font-size="27.2" dy="-0.7" dx="-0.6">1</tspan><tspan font-size="30.7" dy="0.7">)</tspan></text>
<text font-size="37.2" transform="translate(40.0 1777.4) rotate(-90)"><tspan font-style="italic">c</tspan><tspan font-size="27.2" dx="-0.72" dy="10.4" font-style="italic">M</tspan><tspan font-size="30.7" dx="-22.02" dy="-29.4">(</tspan><tspan font-size="27.2" dy="-0.7" dx="-0.6">2</tspan><tspan font-size="30.7" dy="0.7">)</tspan></text>
<rect x="1480" y="1022.6" width="67" height="24.6" fill="#4a97c7"/>
<rect x="1480" y="1068.1" width="67" height="24.6" fill="#e4572e"/>
<text x="1571.4" y="1046.5" font-size="31.8">LIM</text>
<text y="1091.9" font-size="31.8"><tspan x="1571.4">Planck</tspan><tspan x="1665.6" font-size="34.5" dy="3.6" stroke="#000" stroke-width="0.5">+</tspan><tspan x="1692.3" dy="-3.6">LIM</tspan></text>
</svg>
</body>
</html>
